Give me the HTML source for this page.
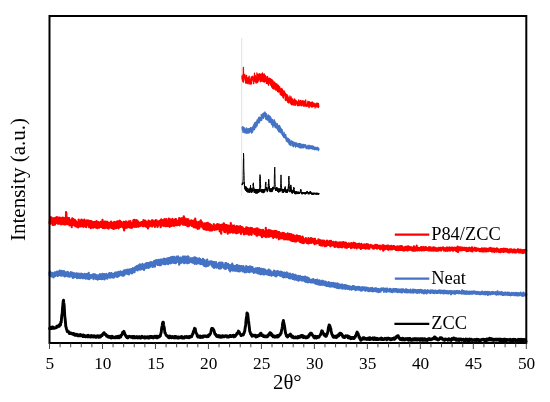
<!DOCTYPE html>
<html><head><meta charset="utf-8"><title>XRD</title>
<style>
html,body{margin:0;padding:0;background:#fff;}
body{width:550px;height:402px;overflow:hidden;}
svg{display:block;font-family:"Liberation Serif",serif;}
</style></head><body>
<svg width="550" height="402" viewBox="0 0 550 402">
<rect width="550" height="402" fill="#fff"/>
<!-- inset -->
<path d="M241.7 38V196" stroke="#e2e2e2" stroke-width="1" fill="none"/>
<path d="M242.0 75.4L242.1 78.9L242.3 78.1L242.4 78.8L242.6 80.4L242.7 81.3L242.9 74.7L243.0 75.5L243.1 74.6L243.3 82.2L243.4 67.5L243.6 80.2L243.7 79.2L243.9 75.3L244.0 76.6L244.1 75.2L244.3 76.6L244.4 75.0L244.6 74.4L244.7 74.8L244.9 78.2L245.0 75.9L245.1 75.1L245.3 81.1L245.4 81.2L245.6 82.8L245.7 81.7L245.9 83.0L246.0 80.5L246.2 79.5L246.3 78.6L246.4 77.9L246.6 75.3L246.7 81.3L246.9 78.0L247.0 81.6L247.2 83.5L247.3 82.2L247.4 79.8L247.6 80.3L247.7 83.2L247.9 77.7L248.0 80.7L248.2 80.8L248.3 80.9L248.4 77.3L248.6 79.6L248.7 80.0L248.9 82.5L249.0 84.0L249.2 76.1L249.3 82.5L249.4 79.8L249.6 81.2L249.7 80.3L249.9 82.6L250.0 79.2L250.2 79.1L250.3 80.4L250.4 84.0L250.6 79.3L250.7 79.3L250.9 80.0L251.0 84.2L251.2 77.0L251.3 80.8L251.4 80.9L251.6 83.3L251.7 78.6L251.9 80.9L252.0 77.8L252.2 78.4L252.3 76.2L252.4 77.9L252.6 78.8L252.7 78.0L252.9 79.0L253.0 77.9L253.2 77.6L253.3 78.3L253.4 81.1L253.6 80.6L253.7 83.7L253.9 76.4L254.0 82.1L254.2 75.9L254.3 77.1L254.5 73.2L254.6 79.4L254.7 75.2L254.9 75.6L255.0 81.2L255.2 80.5L255.3 75.7L255.5 80.2L255.6 78.5L255.7 82.2L255.9 79.7L256.0 79.3L256.2 83.1L256.3 76.9L256.5 78.4L256.6 81.1L256.7 80.7L256.9 72.8L257.0 74.4L257.2 76.7L257.3 82.6L257.5 74.8L257.6 74.3L257.7 82.0L257.9 75.3L258.0 76.7L258.2 81.4L258.3 77.3L258.5 74.3L258.6 77.4L258.7 80.1L258.9 75.1L259.0 76.0L259.2 76.5L259.3 73.7L259.5 79.5L259.6 74.4L259.7 75.4L259.9 77.4L260.0 80.0L260.2 74.2L260.3 81.8L260.5 77.8L260.6 74.8L260.7 74.9L260.9 77.9L261.0 74.1L261.2 74.7L261.3 81.4L261.5 80.7L261.6 78.5L261.8 80.6L261.9 74.1L262.0 75.5L262.2 73.2L262.3 78.0L262.5 73.0L262.6 73.9L262.8 81.5L262.9 73.8L263.0 81.5L263.2 77.7L263.3 77.3L263.5 74.3L263.6 76.2L263.8 76.4L263.9 79.4L264.0 82.0L264.2 76.4L264.3 73.9L264.5 82.1L264.6 78.0L264.8 77.5L264.9 80.6L265.0 80.3L265.2 78.8L265.3 75.5L265.5 81.3L265.6 76.6L265.8 79.8L265.9 76.3L266.0 76.8L266.2 80.2L266.3 81.4L266.5 83.4L266.6 81.1L266.8 80.8L266.9 80.6L267.0 78.0L267.2 83.5L267.3 80.8L267.5 76.3L267.6 80.1L267.8 79.0L267.9 77.6L268.0 82.3L268.2 83.4L268.3 84.3L268.5 84.2L268.6 85.3L268.8 78.6L268.9 81.9L269.1 80.6L269.2 83.5L269.3 83.3L269.5 78.1L269.6 80.0L269.8 79.6L269.9 78.4L270.1 80.3L270.2 82.2L270.3 80.8L270.5 79.5L270.6 85.2L270.8 79.0L270.9 80.6L271.1 84.5L271.2 82.2L271.3 84.4L271.5 79.6L271.6 87.1L271.8 82.5L271.9 86.3L272.1 82.9L272.2 86.6L272.3 79.8L272.5 82.0L272.6 88.3L272.8 80.5L272.9 87.3L273.1 83.3L273.2 84.3L273.3 82.7L273.5 83.3L273.6 88.9L273.8 84.6L273.9 81.9L274.1 87.3L274.2 82.7L274.3 85.6L274.5 87.8L274.6 85.1L274.8 82.1L274.9 87.7L275.1 89.5L275.2 87.4L275.3 89.7L275.5 85.8L275.6 83.7L275.8 84.9L275.9 89.0L276.1 90.3L276.2 83.7L276.3 89.5L276.5 89.1L276.6 84.6L276.8 89.9L276.9 86.5L277.1 84.2L277.2 87.9L277.4 85.4L277.5 88.0L277.6 91.6L277.8 85.3L277.9 88.4L278.1 88.2L278.2 85.4L278.4 89.3L278.5 85.3L278.6 92.2L278.8 91.9L278.9 89.3L279.1 87.0L279.2 86.3L279.4 87.2L279.5 89.9L279.6 90.6L279.8 86.9L279.9 92.3L280.1 90.2L280.2 94.6L280.4 89.7L280.5 90.5L280.6 93.5L280.8 90.4L280.9 93.7L281.1 91.8L281.2 88.3L281.4 95.2L281.5 95.4L281.6 88.9L281.8 90.8L281.9 93.0L282.1 89.2L282.2 91.9L282.4 89.2L282.5 93.3L282.6 93.1L282.8 97.1L282.9 96.1L283.1 91.7L283.2 95.4L283.4 98.0L283.5 91.0L283.6 94.8L283.8 91.5L283.9 92.6L284.1 94.8L284.2 90.8L284.4 95.0L284.5 93.6L284.7 91.8L284.8 96.0L284.9 93.3L285.1 93.4L285.2 100.0L285.4 95.8L285.5 96.9L285.7 93.3L285.8 100.6L285.9 97.7L286.1 95.5L286.2 98.7L286.4 98.7L286.5 97.5L286.7 97.2L286.8 94.7L286.9 100.3L287.1 94.6L287.2 95.0L287.4 99.7L287.5 101.8L287.7 102.2L287.8 95.8L287.9 101.8L288.1 96.9L288.2 97.1L288.4 99.3L288.5 100.3L288.7 100.0L288.8 103.1L288.9 99.9L289.1 99.0L289.2 99.9L289.4 97.8L289.5 102.0L289.7 98.0L289.8 100.4L289.9 96.0L290.1 102.3L290.2 99.7L290.4 102.9L290.5 98.5L290.7 100.9L290.8 103.8L290.9 102.8L291.1 99.1L291.2 97.0L291.4 102.0L291.5 104.7L291.7 100.7L291.8 102.8L291.9 102.7L292.1 104.8L292.2 100.9L292.4 98.8L292.5 98.9L292.7 104.4L292.8 98.8L293.0 102.3L293.1 102.7L293.2 104.5L293.4 101.4L293.5 100.3L293.7 104.6L293.8 102.7L294.0 105.2L294.1 103.8L294.2 103.1L294.4 102.0L294.5 99.0L294.7 104.2L294.8 101.4L295.0 99.5L295.1 103.8L295.2 105.3L295.4 103.8L295.5 100.4L295.7 101.4L295.8 101.4L296.0 100.6L296.1 103.6L296.2 103.8L296.4 101.2L296.5 101.9L296.7 101.5L296.8 101.1L297.0 103.5L297.1 104.4L297.2 103.9L297.4 105.5L297.5 105.4L297.7 105.5L297.8 104.4L298.0 102.0L298.1 104.3L298.2 105.6L298.4 101.5L298.5 101.9L298.7 100.0L298.8 105.3L299.0 104.7L299.1 100.7L299.2 102.6L299.4 101.7L299.5 102.1L299.7 102.6L299.8 105.7L300.0 101.9L300.1 103.5L300.3 104.5L300.4 104.3L300.5 100.4L300.7 102.2L300.8 105.1L301.0 101.3L301.1 102.9L301.3 104.9L301.4 101.5L301.5 103.2L301.7 105.9L301.8 101.0L302.0 102.1L302.1 100.6L302.3 100.8L302.4 105.2L302.5 103.6L302.7 104.1L302.8 102.1L303.0 104.7L303.1 101.5L303.3 101.8L303.4 101.0L303.5 106.1L303.7 102.6L303.8 102.4L304.0 103.2L304.1 102.1L304.3 106.0L304.4 102.4L304.5 101.1L304.7 105.6L304.8 105.0L305.0 101.9L305.1 103.0L305.3 101.8L305.4 106.0L305.5 106.1L305.7 100.0L305.8 102.2L306.0 103.3L306.1 104.5L306.3 105.7L306.4 106.1L306.5 106.3L306.7 104.3L306.8 105.3L307.0 106.1L307.1 105.3L307.3 103.8L307.4 105.8L307.6 104.7L307.7 102.9L307.8 101.5L308.0 105.5L308.1 101.4L308.3 106.5L308.4 105.7L308.6 102.4L308.7 106.1L308.8 104.5L309.0 106.7L309.1 107.7L309.3 101.6L309.4 102.8L309.6 106.0L309.7 104.4L309.8 102.4L310.0 104.4L310.1 103.5L310.3 103.7L310.4 102.3L310.6 104.9L310.7 106.1L310.8 103.8L311.0 103.4L311.1 106.6L311.3 105.1L311.4 107.0L311.6 106.3L311.7 102.2L311.8 105.6L312.0 102.7L312.1 101.9L312.3 105.3L312.4 102.1L312.6 103.2L312.7 107.0L312.8 103.6L313.0 105.7L313.1 105.7L313.3 104.9L313.4 106.4L313.6 103.2L313.7 102.9L313.8 106.2L314.0 104.0L314.1 103.3L314.3 104.9L314.4 105.7L314.6 104.9L314.7 106.4L314.8 104.1L315.0 106.3L315.1 108.0L315.3 105.3L315.4 105.8L315.6 105.3L315.7 104.0L315.9 103.7L316.0 106.0L316.1 103.3L316.3 104.5L316.4 104.4L316.6 106.9L316.7 105.2L316.9 103.9L317.0 104.8L317.1 103.0L317.3 104.1L317.4 106.0L317.6 103.9L317.7 104.2L317.9 107.1L318.0 104.1L318.1 105.6L318.3 107.5L318.4 103.3L318.6 104.8L318.7 106.7L318.9 106.5L319.0 105.8" stroke="#ff0000" stroke-width="1.3" fill="none" stroke-linejoin="round"/>
<path d="M242.0 128.1L242.1 127.7L242.3 129.7L242.4 126.9L242.6 126.8L242.7 129.4L242.9 132.3L243.0 127.7L243.1 127.9L243.3 127.1L243.4 127.2L243.6 127.3L243.7 128.8L243.9 128.6L244.0 130.6L244.1 128.0L244.3 132.7L244.4 130.7L244.6 132.2L244.7 128.0L244.9 132.4L245.0 129.9L245.1 129.5L245.3 133.0L245.4 130.2L245.6 129.3L245.7 130.0L245.9 131.6L246.0 129.1L246.2 130.8L246.3 129.7L246.4 128.5L246.6 127.9L246.7 133.0L246.9 133.5L247.0 129.6L247.2 132.7L247.3 130.4L247.4 130.1L247.6 129.7L247.7 130.0L247.9 130.2L248.0 128.7L248.2 133.2L248.3 130.6L248.4 129.1L248.6 130.5L248.7 130.8L248.9 132.5L249.0 128.7L249.2 130.9L249.3 132.5L249.4 132.8L249.6 128.5L249.7 129.8L249.9 131.9L250.0 129.6L250.2 131.6L250.3 129.0L250.4 129.3L250.6 127.7L250.7 131.8L250.9 129.0L251.0 127.6L251.2 128.7L251.3 128.1L251.4 129.3L251.6 133.1L251.7 132.8L251.9 132.2L252.0 131.8L252.2 132.4L252.3 127.4L252.4 129.4L252.6 131.0L252.7 131.8L252.9 129.5L253.0 126.2L253.2 127.4L253.3 126.1L253.4 129.7L253.6 129.8L253.7 126.9L253.9 124.1L254.0 129.9L254.2 129.5L254.3 129.6L254.5 128.2L254.6 129.6L254.7 124.7L254.9 122.3L255.0 128.0L255.2 127.6L255.3 123.8L255.5 125.8L255.6 122.3L255.7 122.4L255.9 127.7L256.0 126.8L256.2 122.0L256.3 125.0L256.5 125.2L256.6 123.8L256.7 123.4L256.9 124.4L257.0 119.8L257.2 125.9L257.3 123.4L257.5 122.2L257.6 120.8L257.7 120.5L257.9 122.7L258.0 119.6L258.2 122.9L258.3 118.5L258.5 120.4L258.6 119.5L258.7 117.4L258.9 122.0L259.0 123.1L259.2 119.5L259.3 118.3L259.5 121.0L259.6 117.1L259.7 122.0L259.9 119.4L260.0 120.5L260.2 117.7L260.3 119.0L260.5 119.1L260.6 119.3L260.7 120.4L260.9 117.7L261.0 117.5L261.2 117.3L261.3 114.4L261.5 116.6L261.6 120.4L261.8 118.5L261.9 116.2L262.0 119.2L262.2 115.2L262.3 116.0L262.5 115.0L262.6 115.7L262.8 113.6L262.9 116.6L263.0 113.3L263.2 115.4L263.3 117.5L263.5 118.3L263.6 116.5L263.8 114.3L263.9 112.9L264.0 113.3L264.2 113.1L264.3 115.9L264.5 116.6L264.6 112.1L264.8 114.4L264.9 116.7L265.0 116.4L265.2 112.2L265.3 115.8L265.5 118.5L265.6 118.1L265.8 113.7L265.9 118.3L266.0 119.5L266.2 119.3L266.3 118.9L266.5 113.6L266.6 116.0L266.8 117.8L266.9 119.5L267.0 119.4L267.2 116.4L267.3 116.2L267.5 118.9L267.6 115.9L267.8 117.1L267.9 120.4L268.0 116.3L268.2 120.7L268.3 114.9L268.5 115.3L268.6 117.5L268.8 120.0L268.9 116.7L269.1 122.4L269.2 119.8L269.3 116.0L269.5 117.3L269.6 122.1L269.8 116.7L269.9 116.1L270.1 117.9L270.2 116.4L270.3 117.8L270.5 120.1L270.6 122.8L270.8 120.1L270.9 121.0L271.1 117.8L271.2 119.7L271.3 122.1L271.5 121.0L271.6 124.6L271.8 120.7L271.9 124.7L272.1 119.4L272.2 123.1L272.3 123.9L272.5 125.5L272.6 119.6L272.8 123.1L272.9 127.3L273.1 122.5L273.2 126.3L273.3 125.9L273.5 121.3L273.6 122.8L273.8 121.8L273.9 125.6L274.1 119.9L274.2 125.0L274.3 119.8L274.5 120.3L274.6 126.0L274.8 121.8L274.9 124.7L275.1 127.5L275.2 121.9L275.3 123.3L275.5 126.9L275.6 125.8L275.8 126.0L275.9 122.8L276.1 125.5L276.2 128.1L276.3 125.9L276.5 126.9L276.6 128.2L276.8 125.1L276.9 126.4L277.1 125.4L277.2 124.9L277.4 123.6L277.5 129.8L277.6 125.9L277.8 128.8L277.9 125.2L278.1 128.2L278.2 130.3L278.4 129.3L278.5 127.7L278.6 131.7L278.8 125.8L278.9 131.1L279.1 125.9L279.2 128.8L279.4 125.4L279.5 125.9L279.6 132.1L279.8 131.1L279.9 126.3L280.1 126.8L280.2 127.1L280.4 132.5L280.5 130.1L280.6 132.8L280.8 131.4L280.9 132.8L281.1 128.5L281.2 132.8L281.4 130.1L281.5 132.6L281.6 129.5L281.8 130.9L281.9 134.3L282.1 129.6L282.2 130.3L282.4 131.4L282.5 131.1L282.6 135.5L282.8 136.0L282.9 135.9L283.1 133.4L283.2 134.9L283.4 134.7L283.5 135.4L283.6 135.4L283.8 137.6L283.9 136.0L284.1 132.2L284.2 137.1L284.4 136.0L284.5 137.7L284.7 135.0L284.8 134.3L284.9 136.4L285.1 134.8L285.2 137.3L285.4 137.2L285.5 138.3L285.7 134.3L285.8 139.3L285.9 135.3L286.1 137.7L286.2 137.5L286.4 141.2L286.5 140.2L286.7 141.1L286.8 137.3L286.9 138.9L287.1 141.4L287.2 141.4L287.4 140.0L287.5 139.6L287.7 138.3L287.8 140.1L287.9 142.3L288.1 141.6L288.2 142.4L288.4 141.3L288.5 138.5L288.7 139.2L288.8 140.8L288.9 143.7L289.1 141.4L289.2 144.3L289.4 141.8L289.5 143.4L289.7 143.4L289.8 139.7L289.9 142.0L290.1 143.1L290.2 145.5L290.4 144.7L290.5 141.5L290.7 141.9L290.8 143.0L290.9 142.4L291.1 142.5L291.2 143.7L291.4 140.9L291.5 143.1L291.7 141.2L291.8 141.0L291.9 145.6L292.1 141.4L292.2 144.7L292.4 145.3L292.5 141.8L292.7 141.8L292.8 141.6L293.0 146.1L293.1 144.1L293.2 142.4L293.4 146.8L293.5 144.9L293.7 146.3L293.8 142.4L294.0 144.9L294.1 145.8L294.2 144.2L294.4 144.5L294.5 142.4L294.7 143.2L294.8 143.5L295.0 144.4L295.1 142.4L295.2 142.8L295.4 145.2L295.5 147.2L295.7 143.7L295.8 145.0L296.0 144.9L296.1 146.3L296.2 145.2L296.4 145.1L296.5 142.9L296.7 142.9L296.8 144.9L297.0 143.4L297.1 144.4L297.2 143.6L297.4 146.6L297.5 144.3L297.7 146.0L297.8 145.8L298.0 146.3L298.1 144.3L298.2 143.9L298.4 147.1L298.5 145.4L298.7 146.4L298.8 145.2L299.0 143.4L299.1 143.9L299.2 144.0L299.4 143.5L299.5 146.6L299.7 147.7L299.8 145.2L300.0 147.8L300.1 144.0L300.3 145.1L300.4 146.2L300.5 146.4L300.7 143.7L300.8 147.5L301.0 148.0L301.1 145.0L301.3 145.0L301.4 146.5L301.5 145.6L301.7 146.1L301.8 147.5L302.0 146.6L302.1 144.4L302.3 145.3L302.4 147.6L302.5 147.9L302.7 145.3L302.8 144.4L303.0 147.4L303.1 145.0L303.3 145.1L303.4 145.9L303.5 144.5L303.7 147.0L303.8 147.8L304.0 145.7L304.1 147.1L304.3 144.9L304.4 145.8L304.5 145.0L304.7 144.8L304.8 145.6L305.0 146.0L305.1 144.6L305.3 147.1L305.4 147.1L305.5 145.7L305.7 146.3L305.8 145.7L306.0 145.0L306.1 148.5L306.3 148.4L306.4 146.5L306.5 148.0L306.7 146.8L306.8 148.6L307.0 147.2L307.1 148.2L307.3 147.1L307.4 147.1L307.6 147.4L307.7 148.2L307.8 145.4L308.0 147.8L308.1 147.8L308.3 148.9L308.4 146.4L308.6 147.7L308.7 146.5L308.8 147.4L309.0 145.2L309.1 148.3L309.3 145.9L309.4 147.1L309.6 145.9L309.7 148.8L309.8 148.0L310.0 148.6L310.1 148.2L310.3 148.7L310.4 147.8L310.6 145.8L310.7 145.7L310.8 148.3L311.0 146.6L311.1 148.2L311.3 147.2L311.4 148.7L311.6 146.9L311.7 146.0L311.8 148.7L312.0 146.8L312.1 147.2L312.3 148.5L312.4 146.2L312.6 149.2L312.7 145.9L312.8 148.6L313.0 148.9L313.1 148.1L313.3 146.6L313.4 146.3L313.6 148.7L313.7 148.6L313.8 148.8L314.0 149.5L314.1 148.2L314.3 149.4L314.4 149.6L314.6 148.2L314.7 148.9L314.8 146.8L315.0 149.7L315.1 148.0L315.3 148.0L315.4 148.7L315.6 149.3L315.7 147.3L315.9 149.0L316.0 149.2L316.1 147.8L316.3 148.0L316.4 149.5L316.6 147.7L316.7 149.8L316.9 149.6L317.0 147.8L317.1 147.7L317.3 147.3L317.4 147.4L317.6 149.6L317.7 147.7L317.9 147.7L318.0 148.9L318.1 147.8L318.3 147.8L318.4 150.6L318.6 150.1L318.7 149.4L318.9 149.5L319.0 148.2" stroke="#4472c4" stroke-width="1.3" fill="none" stroke-linejoin="round"/>
<path d="M242.0 185.2L242.1 184.2L242.2 183.9L242.2 183.5L242.3 184.8L242.4 183.7L242.5 183.8L242.5 183.9L242.6 183.4L242.7 182.6L242.8 182.5L242.8 183.9L242.9 181.8L243.0 181.1L243.1 179.0L243.2 175.7L243.2 171.8L243.3 168.5L243.4 161.0L243.5 157.5L243.5 153.2L243.6 154.2L243.7 157.8L243.8 160.4L243.8 166.4L243.9 170.2L244.0 172.1L244.1 175.8L244.2 180.9L244.2 184.1L244.3 182.2L244.4 186.5L244.5 186.2L244.5 184.3L244.6 185.3L244.7 188.0L244.8 188.3L244.8 187.8L244.9 189.2L245.0 188.6L245.1 189.4L245.2 187.0L245.2 187.4L245.3 187.0L245.4 186.6L245.5 187.1L245.5 186.5L245.6 190.3L245.7 188.9L245.8 190.5L245.8 186.9L245.9 189.2L246.0 188.5L246.1 190.7L246.2 186.7L246.2 189.5L246.3 189.2L246.4 187.1L246.5 189.1L246.5 188.4L246.6 188.5L246.7 187.4L246.8 191.1L246.9 188.3L246.9 191.6L247.0 188.2L247.1 191.6L247.2 192.0L247.2 189.9L247.3 191.6L247.4 188.9L247.5 188.4L247.5 191.2L247.6 190.4L247.7 191.8L247.8 190.4L247.9 192.4L247.9 189.9L248.0 189.9L248.1 191.5L248.2 192.6L248.2 189.6L248.3 189.3L248.4 191.9L248.5 189.5L248.5 188.9L248.6 190.8L248.7 189.6L248.8 188.8L248.9 191.2L248.9 190.1L249.0 188.9L249.1 189.8L249.2 190.3L249.2 189.1L249.3 191.6L249.4 188.7L249.5 190.4L249.5 189.9L249.6 192.7L249.7 189.1L249.8 188.8L249.9 189.9L249.9 192.7L250.0 190.3L250.1 191.8L250.2 187.6L250.2 190.5L250.3 189.5L250.4 190.0L250.5 185.8L250.5 185.0L250.6 188.8L250.7 189.0L250.8 187.7L250.9 190.1L250.9 190.4L251.0 189.9L251.1 189.8L251.2 188.2L251.2 191.4L251.3 191.8L251.4 191.2L251.5 192.1L251.5 190.8L251.6 189.8L251.7 193.0L251.8 189.1L251.9 190.0L251.9 189.7L252.0 191.5L252.1 190.8L252.2 191.3L252.2 190.8L252.3 191.5L252.4 189.1L252.5 190.3L252.5 191.0L252.6 191.2L252.7 190.3L252.8 188.3L252.9 190.8L252.9 189.4L253.0 190.8L253.1 187.1L253.2 187.7L253.2 183.8L253.3 185.9L253.4 182.8L253.5 185.5L253.6 186.4L253.6 187.7L253.7 187.8L253.8 188.6L253.9 187.7L253.9 188.8L254.0 191.7L254.1 192.6L254.2 190.0L254.2 191.0L254.3 190.0L254.4 190.0L254.5 192.4L254.6 192.6L254.6 191.6L254.7 192.8L254.8 188.9L254.9 193.0L254.9 189.4L255.0 189.0L255.1 189.5L255.2 190.1L255.2 191.4L255.3 189.2L255.4 193.1L255.5 190.9L255.6 193.4L255.6 192.2L255.7 190.1L255.8 189.9L255.9 192.7L255.9 191.6L256.0 189.4L256.1 190.2L256.2 189.6L256.2 191.7L256.3 193.0L256.4 190.7L256.5 189.2L256.6 193.2L256.6 192.7L256.7 189.2L256.8 190.3L256.9 190.7L256.9 193.4L257.0 189.2L257.1 193.5L257.2 191.8L257.2 190.8L257.3 190.8L257.4 192.0L257.5 190.4L257.6 190.4L257.6 192.6L257.7 190.5L257.8 192.6L257.9 190.5L257.9 192.0L258.0 189.0L258.1 191.4L258.2 190.9L258.2 192.4L258.3 191.7L258.4 191.8L258.5 189.7L258.6 192.7L258.6 192.5L258.7 191.1L258.8 191.7L258.9 190.0L258.9 189.9L259.0 191.1L259.1 190.5L259.2 189.0L259.2 192.2L259.3 191.3L259.4 188.7L259.5 191.4L259.6 189.0L259.6 187.4L259.7 187.5L259.8 181.9L259.9 179.3L259.9 180.6L260.0 174.6L260.1 175.1L260.2 178.1L260.2 177.3L260.3 182.7L260.4 181.9L260.5 187.3L260.6 185.1L260.6 188.5L260.7 191.3L260.8 191.1L260.9 191.0L260.9 190.4L261.0 191.8L261.1 191.6L261.2 189.3L261.2 191.8L261.3 192.2L261.4 191.7L261.5 189.8L261.6 190.5L261.6 189.7L261.7 190.4L261.8 190.6L261.9 192.4L261.9 192.1L262.0 189.6L262.1 192.4L262.2 191.9L262.3 190.3L262.3 191.4L262.4 189.3L262.5 189.6L262.6 190.0L262.6 192.3L262.7 189.7L262.8 190.1L262.9 191.1L262.9 190.7L263.0 189.8L263.1 191.1L263.2 193.2L263.3 191.1L263.3 192.6L263.4 192.5L263.5 189.5L263.6 191.0L263.6 190.7L263.7 192.3L263.8 191.8L263.9 191.5L263.9 192.6L264.0 189.2L264.1 189.2L264.2 190.8L264.3 191.5L264.3 191.5L264.4 192.3L264.5 189.3L264.6 189.0L264.6 190.0L264.7 191.4L264.8 189.6L264.9 191.4L264.9 190.4L265.0 189.0L265.1 189.8L265.2 188.8L265.3 189.7L265.3 188.4L265.4 184.7L265.5 183.2L265.6 184.6L265.6 183.6L265.7 183.4L265.8 181.9L265.9 182.0L265.9 185.2L266.0 188.3L266.1 187.9L266.2 189.2L266.3 187.1L266.3 189.2L266.4 188.5L266.5 188.3L266.6 189.0L266.6 189.4L266.7 190.3L266.8 190.8L266.9 190.5L266.9 189.8L267.0 188.9L267.1 190.4L267.2 192.1L267.3 192.1L267.3 192.1L267.4 192.0L267.5 190.6L267.6 190.3L267.6 188.9L267.7 191.1L267.8 190.3L267.9 189.3L267.9 187.5L268.0 187.6L268.1 189.2L268.2 187.8L268.3 188.0L268.3 184.0L268.4 185.2L268.5 184.8L268.6 180.0L268.6 183.3L268.7 179.2L268.8 182.5L268.9 182.7L268.9 182.9L269.0 184.4L269.1 184.2L269.2 188.3L269.3 186.0L269.3 190.6L269.4 191.1L269.5 190.9L269.6 188.1L269.6 190.3L269.7 191.3L269.8 189.6L269.9 189.7L270.0 191.3L270.0 188.1L270.1 189.6L270.2 191.6L270.3 191.5L270.3 192.0L270.4 191.8L270.5 189.0L270.6 192.1L270.6 189.2L270.7 190.5L270.8 190.6L270.9 191.0L271.0 190.8L271.0 189.1L271.1 191.9L271.2 188.8L271.3 191.3L271.3 188.2L271.4 192.0L271.5 191.9L271.6 189.3L271.6 190.5L271.7 190.2L271.8 192.1L271.9 189.4L272.0 188.4L272.0 189.8L272.1 189.4L272.2 189.1L272.3 191.3L272.3 189.5L272.4 188.4L272.5 188.5L272.6 191.2L272.6 189.3L272.7 187.9L272.8 188.8L272.9 187.0L273.0 188.2L273.0 186.9L273.1 187.3L273.2 189.4L273.3 187.6L273.3 188.7L273.4 187.2L273.5 186.9L273.6 187.7L273.6 187.3L273.7 188.7L273.8 189.4L273.9 187.5L274.0 189.0L274.0 187.6L274.1 187.8L274.2 186.1L274.3 184.7L274.3 180.8L274.4 174.8L274.5 172.3L274.6 169.0L274.6 168.6L274.7 168.1L274.8 167.2L274.9 173.3L275.0 175.1L275.0 179.7L275.1 182.7L275.2 184.2L275.3 186.5L275.3 187.4L275.4 189.1L275.5 190.2L275.6 189.4L275.6 191.0L275.7 189.6L275.8 187.9L275.9 190.2L276.0 189.1L276.0 190.8L276.1 189.0L276.2 190.4L276.3 188.5L276.3 190.3L276.4 189.9L276.5 190.1L276.6 187.2L276.6 188.6L276.7 189.6L276.8 188.1L276.9 187.2L277.0 189.0L277.0 188.7L277.1 187.9L277.2 189.8L277.3 189.4L277.3 191.0L277.4 189.9L277.5 191.4L277.6 190.7L277.7 189.7L277.7 188.1L277.8 191.2L277.9 190.0L278.0 191.8L278.0 192.0L278.1 191.8L278.2 190.7L278.3 191.0L278.3 191.1L278.4 190.3L278.5 190.1L278.6 192.5L278.7 188.5L278.7 192.1L278.8 189.1L278.9 189.0L279.0 191.7L279.0 188.6L279.1 191.2L279.2 189.5L279.3 192.0L279.3 190.8L279.4 189.4L279.5 190.9L279.6 191.4L279.7 191.9L279.7 188.5L279.8 192.1L279.9 191.7L280.0 189.2L280.0 190.6L280.1 190.2L280.2 190.3L280.3 188.5L280.3 190.8L280.4 189.1L280.5 187.5L280.6 187.5L280.7 183.3L280.7 181.7L280.8 179.7L280.9 177.4L281.0 174.9L281.0 176.0L281.1 176.7L281.2 180.1L281.3 181.1L281.3 183.7L281.4 186.2L281.5 186.0L281.6 188.6L281.7 190.7L281.7 190.5L281.8 190.0L281.9 188.7L282.0 190.7L282.0 190.1L282.1 190.0L282.2 191.5L282.3 192.6L282.3 190.8L282.4 189.5L282.5 191.5L282.6 190.6L282.7 192.2L282.7 191.9L282.8 190.3L282.9 192.2L283.0 191.0L283.0 191.7L283.1 189.2L283.2 190.0L283.3 192.4L283.3 189.0L283.4 191.7L283.5 192.7L283.6 192.3L283.7 189.6L283.7 189.5L283.8 190.5L283.9 189.2L284.0 191.4L284.0 191.5L284.1 191.6L284.2 192.1L284.3 189.9L284.4 188.6L284.4 189.0L284.5 191.3L284.6 188.2L284.7 187.7L284.7 189.5L284.8 188.7L284.9 189.6L285.0 188.9L285.0 189.2L285.1 189.6L285.2 186.5L285.3 190.6L285.4 188.4L285.4 188.1L285.5 191.7L285.6 189.6L285.7 189.2L285.7 191.0L285.8 192.2L285.9 190.3L286.0 192.4L286.0 192.9L286.1 191.2L286.2 190.0L286.3 190.3L286.4 189.8L286.4 190.9L286.5 190.7L286.6 190.3L286.7 190.8L286.7 190.2L286.8 192.6L286.9 192.8L287.0 190.9L287.0 189.6L287.1 190.3L287.2 191.8L287.3 193.0L287.4 192.1L287.4 189.4L287.5 190.4L287.6 189.3L287.7 191.2L287.7 190.5L287.8 190.7L287.9 189.9L288.0 189.0L288.0 191.6L288.1 189.6L288.2 188.1L288.3 187.9L288.4 186.4L288.4 188.4L288.5 184.1L288.6 185.3L288.7 183.3L288.7 178.0L288.8 179.0L288.9 176.0L289.0 178.5L289.0 180.9L289.1 181.0L289.2 182.1L289.3 185.7L289.4 187.2L289.4 187.0L289.5 189.1L289.6 189.7L289.7 189.7L289.7 189.9L289.8 192.2L289.9 191.3L290.0 190.4L290.0 190.9L290.1 191.1L290.2 191.9L290.3 190.0L290.4 191.0L290.4 188.0L290.5 189.5L290.6 188.7L290.7 185.3L290.7 187.2L290.8 184.9L290.9 188.5L291.0 187.9L291.0 187.1L291.1 190.1L291.2 189.0L291.3 188.8L291.4 191.1L291.4 192.3L291.5 192.2L291.6 192.6L291.7 192.4L291.7 191.2L291.8 190.6L291.9 191.1L292.0 193.0L292.1 190.0L292.1 190.2L292.2 193.5L292.3 190.0L292.4 192.1L292.4 193.4L292.5 192.0L292.6 192.9L292.7 190.1L292.7 192.8L292.8 192.4L292.9 192.4L293.0 191.0L293.1 192.2L293.1 192.6L293.2 192.7L293.3 189.5L293.4 192.1L293.4 190.8L293.5 189.4L293.6 189.3L293.7 188.5L293.7 187.2L293.8 188.3L293.9 188.8L294.0 189.3L294.1 187.9L294.1 189.4L294.2 192.1L294.3 191.4L294.4 190.3L294.4 193.0L294.5 190.9L294.6 193.9L294.7 192.9L294.7 194.0L294.8 191.8L294.9 193.9L295.0 191.9L295.1 191.1L295.1 193.5L295.2 194.2L295.3 194.2L295.4 191.5L295.4 192.9L295.5 193.3L295.6 192.2L295.7 193.6L295.7 192.4L295.8 194.1L295.9 193.1L296.0 192.7L296.1 192.9L296.1 192.6L296.2 192.9L296.3 193.6L296.4 192.4L296.4 191.4L296.5 193.5L296.6 192.8L296.7 194.1L296.7 191.5L296.8 193.8L296.9 192.4L297.0 193.9L297.1 192.5L297.1 191.9L297.2 193.4L297.3 192.1L297.4 193.9L297.4 193.2L297.5 194.0L297.6 193.5L297.7 192.9L297.7 193.3L297.8 191.8L297.9 191.9L298.0 192.3L298.1 193.1L298.1 194.1L298.2 191.7L298.3 192.4L298.4 191.9L298.4 193.9L298.5 194.0L298.6 193.2L298.7 192.3L298.7 193.9L298.8 192.6L298.9 193.3L299.0 193.8L299.1 192.6L299.1 192.3L299.2 192.0L299.3 194.0L299.4 191.9L299.4 193.7L299.5 194.0L299.6 192.7L299.7 192.1L299.8 193.3L299.8 192.1L299.9 192.5L300.0 192.1L300.1 192.8L300.1 192.6L300.2 192.1L300.3 191.5L300.4 191.6L300.4 190.0L300.5 189.7L300.6 189.4L300.7 189.3L300.8 189.9L300.8 189.4L300.9 191.5L301.0 190.0L301.1 192.2L301.1 192.3L301.2 192.1L301.3 192.3L301.4 193.1L301.4 192.3L301.5 193.4L301.6 192.7L301.7 193.6L301.8 193.0L301.8 194.1L301.9 193.3L302.0 193.4L302.1 192.5L302.1 194.2L302.2 192.2L302.3 192.1L302.4 192.9L302.4 194.2L302.5 192.7L302.6 192.3L302.7 192.8L302.8 193.8L302.8 193.8L302.9 192.3L303.0 193.1L303.1 193.1L303.1 192.5L303.2 192.5L303.3 192.9L303.4 193.0L303.4 193.5L303.5 193.6L303.6 193.5L303.7 193.1L303.8 192.6L303.8 192.5L303.9 192.5L304.0 193.8L304.1 192.6L304.1 193.2L304.2 192.8L304.3 192.8L304.4 193.8L304.4 193.9L304.5 193.4L304.6 193.6L304.7 193.6L304.8 193.9L304.8 192.3L304.9 192.8L305.0 193.9L305.1 194.4L305.1 193.7L305.2 194.0L305.3 192.7L305.4 192.3L305.4 194.2L305.5 192.8L305.6 192.8L305.7 193.6L305.8 193.3L305.8 194.0L305.9 192.7L306.0 192.6L306.1 192.4L306.1 193.8L306.2 193.5L306.3 193.5L306.4 192.6L306.4 192.4L306.5 193.4L306.6 193.4L306.7 192.2L306.8 192.1L306.8 192.8L306.9 192.6L307.0 191.1L307.1 191.1L307.1 192.0L307.2 191.8L307.3 191.2L307.4 192.3L307.4 192.3L307.5 192.0L307.6 192.3L307.7 192.0L307.8 192.5L307.8 192.1L307.9 193.0L308.0 192.2L308.1 192.2L308.1 194.2L308.2 192.5L308.3 192.9L308.4 194.1L308.5 192.5L308.5 193.5L308.6 193.4L308.7 193.5L308.8 193.7L308.8 193.4L308.9 194.2L309.0 193.7L309.1 192.7L309.1 193.5L309.2 192.5L309.3 192.9L309.4 194.2L309.5 192.5L309.5 193.0L309.6 192.4L309.7 194.0L309.8 192.3L309.8 193.2L309.9 192.9L310.0 193.5L310.1 191.7L310.1 191.4L310.2 192.8L310.3 191.4L310.4 191.7L310.5 192.5L310.5 191.4L310.6 191.2L310.7 192.6L310.8 192.8L310.8 193.4L310.9 193.2L311.0 193.0L311.1 192.4L311.1 193.6L311.2 193.3L311.3 193.1L311.4 193.5L311.5 192.7L311.5 194.3L311.6 193.2L311.7 194.3L311.8 194.0L311.8 193.8L311.9 193.1L312.0 193.9L312.1 193.3L312.1 194.3L312.2 193.3L312.3 194.2L312.4 192.7L312.5 194.1L312.5 193.6L312.6 193.8L312.7 193.8L312.8 194.5L312.8 193.8L312.9 194.4L313.0 194.0L313.1 193.5L313.1 194.4L313.2 194.1L313.3 194.0L313.4 194.4L313.5 193.0L313.5 193.0L313.6 193.8L313.7 193.3L313.8 193.0L313.8 193.2L313.9 192.7L314.0 194.3L314.1 192.9L314.1 192.7L314.2 193.7L314.3 193.2L314.4 193.0L314.5 193.7L314.5 193.5L314.6 193.4L314.7 194.0L314.8 193.0L314.8 193.6L314.9 194.4L315.0 193.4L315.1 194.1L315.1 193.4L315.2 193.2L315.3 193.5L315.4 192.9L315.5 193.3L315.5 193.3L315.6 194.3L315.7 194.3L315.8 194.2L315.8 193.7L315.9 192.9L316.0 194.0L316.1 193.7L316.2 194.3L316.2 193.7L316.3 192.9L316.4 193.7L316.5 193.0L316.5 194.4L316.6 192.9L316.7 193.6L316.8 193.1L316.8 193.8L316.9 192.9L317.0 194.6L317.1 194.0L317.2 194.4L317.2 193.5L317.3 193.5L317.4 193.6L317.5 192.9L317.5 194.1L317.6 193.8L317.7 194.0L317.8 193.4L317.8 192.9L317.9 194.1L318.0 194.4L318.1 193.6L318.2 193.6L318.2 193.3L318.3 193.3L318.4 194.2L318.5 193.8L318.5 194.7L318.6 194.0L318.7 193.2L318.8 193.4L318.8 194.1L318.9 193.5L319.0 194.2" stroke="#000" stroke-width="1" fill="none" stroke-linejoin="round"/>
<!-- main curves -->
<path d="M49.5 221.4L49.7 223.4L49.9 222.6L50.1 218.5L50.3 219.1L50.5 223.6L50.7 217.0L50.9 223.3L51.1 223.1L51.3 220.5L51.5 219.5L51.7 219.3L51.9 217.9L52.1 220.4L52.3 221.0L52.5 221.6L52.7 225.0L52.9 223.4L53.1 222.1L53.3 224.9L53.5 219.0L53.7 218.7L53.9 222.0L54.1 218.0L54.3 218.0L54.5 221.5L54.7 221.0L54.9 224.6L55.1 222.5L55.3 221.4L55.5 221.2L55.7 219.3L55.9 217.5L56.1 218.8L56.3 222.4L56.5 218.7L56.7 219.8L56.9 217.1L57.1 223.3L57.3 218.1L57.5 218.9L57.7 223.6L57.9 220.6L58.1 223.0L58.3 221.5L58.5 222.4L58.7 217.6L58.9 221.1L59.1 220.8L59.3 223.6L59.5 219.9L59.7 221.7L59.9 217.5L60.1 219.8L60.3 219.3L60.5 218.1L60.7 223.2L60.9 219.9L61.1 224.5L61.3 221.5L61.5 221.6L61.7 221.7L61.9 222.0L62.1 217.9L62.3 220.1L62.5 218.5L62.7 219.9L62.9 217.5L63.1 224.2L63.3 218.6L63.5 222.0L63.7 219.1L63.9 223.6L64.1 222.1L64.3 218.2L64.5 223.7L64.7 224.5L64.9 224.2L65.1 221.8L65.3 218.6L65.5 218.8L65.7 224.4L65.9 221.6L66.1 212.2L66.3 213.0L66.5 222.4L66.7 221.9L66.9 219.9L67.1 220.8L67.3 219.4L67.5 217.8L67.7 224.2L67.9 221.3L68.1 222.0L68.3 220.3L68.5 223.7L68.7 218.0L68.9 220.8L69.1 218.2L69.3 219.1L69.5 225.4L69.7 223.1L69.9 221.4L70.1 222.0L70.3 224.7L70.5 220.7L70.7 222.6L70.9 223.2L71.1 220.6L71.3 222.0L71.5 223.9L71.7 227.1L71.9 219.5L72.1 225.5L72.3 218.4L72.5 224.3L72.7 224.7L72.9 219.5L73.1 221.8L73.3 224.9L73.5 219.0L73.7 223.6L73.9 224.8L74.1 222.8L74.3 225.3L74.5 220.5L74.7 220.4L74.9 221.7L75.1 220.2L75.3 221.6L75.5 226.2L75.7 223.4L75.9 221.8L76.1 221.2L76.3 226.3L76.5 222.3L76.7 226.6L76.9 223.1L77.1 223.2L77.3 226.2L77.5 224.9L77.7 223.5L77.9 222.3L78.1 227.5L78.3 222.2L78.5 225.9L78.7 219.5L78.9 222.2L79.1 223.0L79.3 226.3L79.5 221.0L79.7 225.3L79.9 224.1L80.1 224.2L80.3 223.6L80.5 226.4L80.7 221.7L80.9 222.2L81.1 220.6L81.3 219.7L81.5 219.6L81.7 226.2L81.9 225.6L82.1 220.0L82.3 223.8L82.5 223.0L82.7 223.8L82.9 224.5L83.1 221.9L83.3 226.8L83.5 223.0L83.7 224.2L83.9 224.2L84.1 220.8L84.3 219.7L84.5 222.4L84.7 225.2L84.9 225.8L85.1 225.3L85.3 220.6L85.5 226.7L85.7 225.9L85.9 226.7L86.1 224.1L86.3 227.2L86.5 220.7L86.7 220.6L86.9 220.3L87.1 222.0L87.3 222.1L87.5 221.7L87.7 224.4L87.9 220.5L88.1 224.7L88.3 221.5L88.5 225.4L88.7 220.5L88.9 222.7L89.1 227.2L89.3 224.3L89.5 226.4L89.7 225.2L89.9 225.1L90.1 222.0L90.3 225.1L90.5 221.0L90.7 227.0L90.9 228.1L91.1 227.2L91.3 221.1L91.5 223.3L91.7 223.0L91.9 221.7L92.1 225.6L92.3 226.8L92.5 223.2L92.7 227.5L92.9 227.0L93.1 222.0L93.3 226.8L93.5 227.7L93.7 222.5L93.9 225.3L94.1 225.9L94.3 225.8L94.5 221.9L94.7 226.0L94.9 225.5L95.1 227.0L95.3 226.9L95.5 223.2L95.7 226.2L95.9 227.4L96.1 227.6L96.3 222.1L96.5 221.1L96.7 225.8L96.9 222.5L97.1 225.3L97.3 228.2L97.5 223.7L97.7 223.0L97.9 224.6L98.1 226.2L98.3 222.1L98.5 224.2L98.7 222.3L98.9 226.3L99.1 227.7L99.3 224.2L99.5 224.1L99.7 225.6L99.9 223.0L100.1 223.1L100.3 223.7L100.5 224.7L100.7 221.8L100.9 227.0L101.1 226.1L101.3 223.5L101.5 221.8L101.7 227.0L101.9 222.2L102.1 222.2L102.3 222.1L102.5 219.9L102.7 228.0L102.9 223.3L103.1 222.6L103.3 227.4L103.5 225.9L103.7 222.7L103.9 224.5L104.1 227.9L104.3 224.0L104.5 226.6L104.7 221.7L104.9 226.5L105.1 228.1L105.3 227.3L105.5 226.1L105.7 223.8L105.9 221.5L106.1 225.1L106.3 226.8L106.5 222.3L106.7 223.0L106.9 225.1L107.1 227.8L107.3 227.8L107.5 221.8L107.7 222.5L107.9 227.2L108.1 226.2L108.3 226.8L108.5 228.6L108.7 228.3L108.9 227.4L109.1 226.9L109.3 224.3L109.5 226.3L109.7 222.8L109.9 227.2L110.1 227.1L110.3 227.0L110.5 224.9L110.7 224.4L110.9 224.7L111.1 221.7L111.3 227.9L111.5 225.8L111.7 224.5L111.9 225.8L112.1 227.1L112.3 224.5L112.5 227.8L112.7 228.4L112.9 224.4L113.1 222.5L113.3 227.1L113.5 228.9L113.7 222.4L113.9 226.6L114.1 227.4L114.3 228.2L114.5 222.1L114.7 221.8L114.9 228.5L115.1 222.0L115.3 222.4L115.5 225.5L115.7 224.6L115.9 226.9L116.1 222.7L116.3 228.1L116.5 222.9L116.7 227.0L116.9 221.7L117.1 224.8L117.3 221.3L117.5 223.4L117.7 223.5L117.9 226.5L118.1 224.4L118.3 221.3L118.5 228.3L118.7 227.4L118.9 227.6L119.1 222.4L119.3 223.6L119.5 222.4L119.7 221.5L119.9 220.7L120.1 224.2L120.3 221.4L120.5 221.8L120.7 226.9L120.9 224.2L121.1 221.9L121.3 225.6L121.5 222.7L121.7 224.7L121.9 222.9L122.1 224.8L122.3 225.6L122.5 225.1L122.7 224.0L122.9 227.1L123.1 227.7L123.3 222.4L123.5 222.1L123.7 221.9L123.9 228.7L124.1 230.4L124.3 223.0L124.5 228.5L124.7 222.7L124.9 225.0L125.1 224.9L125.3 228.2L125.5 221.6L125.7 223.5L125.9 225.5L126.1 221.5L126.3 222.7L126.5 224.5L126.7 227.7L126.9 226.6L127.1 227.0L127.3 226.6L127.5 226.1L127.7 227.1L127.9 225.8L128.1 226.0L128.3 222.6L128.5 221.5L128.7 226.1L128.9 221.6L129.1 227.3L129.3 224.8L129.5 222.7L129.7 227.2L129.9 221.4L130.1 224.3L130.3 221.1L130.5 227.7L130.7 224.7L130.9 226.5L131.1 222.6L131.3 226.6L131.5 225.9L131.7 226.1L131.9 227.8L132.1 223.9L132.3 223.7L132.5 225.7L132.7 226.8L132.9 223.0L133.1 225.4L133.3 220.4L133.5 224.4L133.7 226.0L133.9 220.6L134.1 225.5L134.3 219.9L134.5 227.0L134.7 223.2L134.9 222.8L135.1 225.2L135.3 223.7L135.5 225.4L135.7 220.4L135.9 224.0L136.1 224.0L136.3 226.8L136.5 220.2L136.7 223.5L136.9 224.8L137.1 224.4L137.3 220.7L137.5 224.6L137.7 221.9L137.9 221.6L138.1 226.8L138.3 221.7L138.5 223.6L138.7 225.9L138.9 225.5L139.1 224.3L139.3 226.2L139.5 223.5L139.7 224.5L139.9 226.0L140.1 224.8L140.3 224.5L140.5 222.6L140.7 223.6L140.9 222.5L141.1 225.0L141.3 222.2L141.5 222.8L141.7 225.2L141.9 223.3L142.1 222.2L142.3 225.8L142.5 222.5L142.7 226.1L142.9 225.6L143.1 223.1L143.3 225.2L143.5 220.0L143.7 222.7L143.9 226.1L144.1 224.0L144.3 223.7L144.5 224.5L144.7 224.5L144.9 223.7L145.1 222.3L145.3 220.5L145.5 221.3L145.7 221.3L145.9 222.3L146.1 226.6L146.3 221.9L146.5 222.7L146.7 222.2L146.9 224.0L147.1 227.0L147.3 226.6L147.5 222.8L147.7 222.0L147.9 228.4L148.1 223.8L148.3 225.3L148.5 220.6L148.7 226.6L148.9 222.3L149.1 223.6L149.3 221.1L149.5 222.9L149.7 226.2L149.9 226.1L150.1 223.3L150.3 225.6L150.5 223.4L150.7 222.7L150.9 224.2L151.1 221.4L151.3 222.3L151.5 225.3L151.7 225.7L151.9 220.3L152.1 225.5L152.3 226.4L152.5 223.3L152.7 220.4L152.9 225.1L153.1 221.8L153.3 224.7L153.5 222.5L153.7 224.5L153.9 221.5L154.1 223.2L154.3 223.5L154.5 224.2L154.7 221.1L154.9 227.0L155.1 221.9L155.3 222.0L155.5 221.7L155.7 220.2L155.9 222.8L156.1 225.4L156.3 225.0L156.5 221.1L156.7 220.6L156.9 222.2L157.1 225.7L157.3 223.5L157.5 226.9L157.7 224.8L157.9 224.5L158.1 225.7L158.3 225.5L158.5 222.3L158.7 221.6L158.9 223.0L159.1 223.4L159.3 220.8L159.5 223.2L159.7 224.6L159.9 220.8L160.1 220.8L160.3 221.2L160.5 222.1L160.7 227.2L160.9 220.0L161.1 219.7L161.3 219.4L161.5 223.3L161.7 219.8L161.9 223.1L162.1 220.9L162.3 221.5L162.5 225.4L162.7 220.6L162.9 223.8L163.1 222.0L163.3 222.1L163.5 225.1L163.7 220.0L163.9 225.9L164.1 225.6L164.3 223.8L164.5 219.1L164.7 223.8L164.9 223.2L165.1 224.4L165.3 220.6L165.5 226.1L165.7 225.6L165.9 219.6L166.1 221.2L166.3 219.0L166.5 224.9L166.7 225.6L166.9 226.2L167.1 223.8L167.3 223.7L167.5 223.7L167.7 222.8L167.9 225.8L168.1 223.2L168.3 220.9L168.5 222.3L168.8 218.6L169.0 224.2L169.2 223.9L169.4 221.9L169.6 226.8L169.8 224.5L170.0 221.3L170.2 219.3L170.4 219.8L170.6 220.3L170.8 221.3L171.0 222.4L171.2 226.0L171.4 221.0L171.6 225.9L171.8 225.0L172.0 225.3L172.2 222.0L172.4 218.9L172.6 224.8L172.8 220.8L173.0 220.0L173.2 225.1L173.4 224.2L173.6 220.6L173.8 220.9L174.0 225.9L174.2 220.8L174.4 224.0L174.6 219.5L174.8 224.9L175.0 219.7L175.2 222.7L175.4 219.0L175.6 222.9L175.8 225.1L176.0 219.2L176.2 220.7L176.4 224.3L176.6 223.2L176.8 221.0L177.0 223.4L177.2 222.0L177.4 225.2L177.6 220.8L177.8 224.2L178.0 223.3L178.2 223.9L178.4 221.1L178.6 223.6L178.8 223.4L179.0 221.0L179.2 218.1L179.4 225.3L179.6 223.2L179.8 219.3L180.0 223.3L180.2 219.8L180.4 221.2L180.6 224.3L180.8 221.2L181.0 219.8L181.2 219.9L181.4 218.3L181.6 219.3L181.8 219.8L182.0 219.1L182.2 218.3L182.4 221.2L182.6 219.3L182.8 223.2L183.0 224.7L183.2 219.8L183.4 222.1L183.6 221.5L183.8 216.3L184.0 218.7L184.2 224.6L184.4 221.5L184.6 224.2L184.8 218.6L185.0 222.7L185.2 224.8L185.4 225.0L185.6 218.5L185.8 222.6L186.0 221.3L186.2 224.3L186.4 219.3L186.6 220.8L186.8 225.0L187.0 222.3L187.2 222.3L187.4 226.2L187.6 221.1L187.8 219.0L188.0 221.7L188.2 220.0L188.4 219.5L188.6 223.2L188.8 226.1L189.0 223.3L189.2 224.0L189.4 221.4L189.6 223.1L189.8 224.5L190.0 223.4L190.2 225.0L190.4 223.2L190.6 220.8L190.8 223.8L191.0 223.0L191.2 220.4L191.4 224.0L191.6 225.7L191.8 220.5L192.0 223.8L192.2 226.2L192.4 222.9L192.6 222.1L192.8 222.3L193.0 224.2L193.2 225.2L193.4 224.1L193.6 220.6L193.8 226.1L194.0 227.2L194.2 221.1L194.4 222.2L194.6 221.6L194.8 226.8L195.0 227.3L195.2 218.7L195.4 222.9L195.6 221.9L195.8 224.0L196.0 227.6L196.2 221.3L196.4 222.3L196.6 224.7L196.8 225.1L197.0 226.8L197.2 224.6L197.4 222.3L197.6 224.0L197.8 228.9L198.0 227.0L198.2 222.3L198.4 227.4L198.6 222.9L198.8 227.6L199.0 221.8L199.2 228.4L199.4 223.0L199.6 225.3L199.8 226.8L200.0 225.6L200.2 223.0L200.4 221.2L200.6 224.0L200.8 220.3L201.0 223.7L201.2 223.1L201.4 225.8L201.6 224.8L201.8 226.5L202.0 224.1L202.2 222.3L202.4 224.5L202.6 227.7L202.8 223.9L203.0 225.2L203.2 227.8L203.4 225.1L203.6 228.9L203.8 229.0L204.0 224.4L204.2 227.5L204.4 223.9L204.6 223.3L204.8 225.5L205.0 226.9L205.2 229.5L205.4 223.5L205.6 227.8L205.8 226.0L206.0 223.4L206.2 229.8L206.4 227.7L206.6 223.4L206.8 229.4L207.0 223.4L207.2 223.3L207.4 225.2L207.6 229.7L207.8 222.9L208.0 229.6L208.2 227.3L208.4 223.3L208.6 227.3L208.8 226.3L209.0 227.1L209.2 228.5L209.4 228.1L209.6 230.5L209.8 224.0L210.0 229.0L210.2 226.0L210.4 228.8L210.6 229.7L210.8 230.4L211.0 224.9L211.2 226.4L211.4 230.2L211.6 230.1L211.8 226.0L212.0 230.4L212.2 226.4L212.4 226.5L212.6 229.3L212.8 227.3L213.0 227.2L213.2 226.8L213.4 227.2L213.6 224.8L213.8 224.2L214.0 229.6L214.2 227.9L214.4 228.7L214.6 229.8L214.8 225.4L215.0 225.5L215.2 225.7L215.4 225.8L215.6 229.4L215.8 226.3L216.0 225.8L216.2 228.4L216.4 225.0L216.6 224.7L216.8 229.1L217.0 229.4L217.2 226.1L217.4 228.7L217.6 224.1L217.8 227.1L218.0 228.3L218.2 226.0L218.4 226.7L218.6 228.6L218.8 229.0L219.0 225.3L219.2 229.4L219.4 224.6L219.6 231.3L219.8 225.6L220.0 226.1L220.2 225.6L220.4 231.8L220.6 226.5L220.8 228.7L221.0 231.6L221.2 233.6L221.4 224.8L221.6 228.5L221.8 229.2L222.0 229.9L222.2 227.0L222.4 227.0L222.6 224.7L222.8 225.0L223.0 228.9L223.2 225.4L223.4 226.2L223.6 227.2L223.8 223.4L224.0 225.1L224.2 231.8L224.4 227.9L224.6 226.1L224.8 230.0L225.0 224.9L225.2 226.8L225.4 232.2L225.6 231.6L225.8 229.7L226.0 225.6L226.2 227.2L226.4 225.1L226.6 226.6L226.8 225.1L227.0 225.8L227.2 229.7L227.4 225.7L227.6 226.3L227.8 233.7L228.0 226.6L228.2 227.5L228.4 225.7L228.6 231.2L228.8 230.4L229.0 229.3L229.2 230.0L229.4 226.2L229.6 227.2L229.8 229.7L230.0 232.6L230.2 231.6L230.4 230.3L230.6 229.3L230.8 223.2L231.0 232.1L231.2 225.7L231.4 226.1L231.6 230.5L231.8 231.2L232.0 231.1L232.2 228.5L232.4 226.3L232.6 225.5L232.8 231.7L233.0 232.7L233.2 227.1L233.4 231.9L233.6 228.5L233.8 227.9L234.0 229.5L234.2 225.6L234.4 229.2L234.6 227.3L234.8 231.3L235.0 229.9L235.2 232.7L235.4 232.8L235.6 228.3L235.8 228.0L236.0 233.0L236.2 229.7L236.4 226.6L236.6 226.2L236.8 233.3L237.0 230.2L237.2 226.3L237.4 229.6L237.6 229.5L237.8 228.9L238.0 232.7L238.2 232.7L238.4 226.5L238.6 226.8L238.8 228.8L239.0 232.1L239.2 230.6L239.4 231.4L239.6 230.2L239.8 227.4L240.0 232.1L240.2 226.2L240.4 231.4L240.6 227.6L240.8 229.9L241.0 234.0L241.2 230.7L241.4 227.2L241.6 230.1L241.8 231.9L242.0 227.4L242.2 228.9L242.4 227.3L242.6 231.4L242.8 230.3L243.0 231.2L243.2 228.7L243.4 232.4L243.6 228.7L243.8 234.1L244.0 234.4L244.2 230.8L244.4 230.5L244.6 233.4L244.8 229.1L245.0 233.1L245.2 229.3L245.4 232.6L245.6 229.5L245.8 231.5L246.0 233.9L246.2 227.3L246.4 232.9L246.6 230.9L246.8 229.8L247.0 229.8L247.2 227.6L247.4 229.2L247.6 231.9L247.8 227.9L248.0 232.1L248.2 234.2L248.4 234.5L248.6 233.8L248.8 233.3L249.0 228.6L249.2 234.7L249.4 229.0L249.6 234.1L249.8 234.2L250.0 232.2L250.2 231.6L250.4 227.8L250.6 231.7L250.8 230.0L251.0 228.9L251.2 228.9L251.4 233.9L251.6 234.8L251.8 228.9L252.0 228.0L252.2 228.6L252.4 228.8L252.6 229.1L252.8 232.1L253.0 231.1L253.2 230.9L253.4 229.3L253.6 232.6L253.8 229.7L254.0 230.5L254.2 230.8L254.4 234.0L254.6 229.1L254.8 233.7L255.0 229.7L255.2 234.1L255.4 230.6L255.6 231.5L255.8 234.2L256.0 232.8L256.2 228.6L256.4 228.9L256.6 235.6L256.8 228.5L257.0 230.6L257.2 235.7L257.4 228.8L257.6 228.4L257.8 230.4L258.0 229.4L258.2 232.3L258.4 233.1L258.6 231.1L258.8 229.6L259.0 234.7L259.2 234.7L259.4 232.8L259.6 229.7L259.8 232.7L260.0 233.4L260.2 232.1L260.4 235.4L260.6 231.9L260.8 232.9L261.0 230.1L261.2 233.6L261.4 235.1L261.6 235.0L261.8 231.6L262.0 237.1L262.2 235.0L262.4 233.1L262.6 233.0L262.8 235.6L263.0 229.8L263.2 234.6L263.4 235.2L263.6 233.6L263.8 236.2L264.0 233.3L264.2 233.1L264.4 231.7L264.6 236.2L264.8 231.7L265.0 234.4L265.2 232.5L265.4 236.4L265.6 236.6L265.8 227.9L266.0 237.1L266.2 234.3L266.4 230.4L266.6 233.6L266.8 230.3L267.0 233.9L267.2 231.3L267.4 232.7L267.6 232.2L267.8 234.4L268.0 236.0L268.2 236.8L268.4 232.3L268.6 234.0L268.8 229.9L269.0 232.5L269.2 236.6L269.4 230.5L269.6 235.7L269.8 234.1L270.0 231.6L270.2 235.0L270.4 231.6L270.6 236.1L270.8 230.4L271.0 230.8L271.2 235.4L271.4 233.4L271.6 231.4L271.8 234.0L272.0 232.5L272.2 234.6L272.4 235.9L272.6 236.8L272.8 231.2L273.0 235.1L273.2 238.0L273.4 234.2L273.6 236.3L273.8 231.7L274.0 237.0L274.2 234.9L274.4 236.9L274.6 236.0L274.8 236.5L275.0 230.9L275.2 235.7L275.4 232.2L275.6 232.9L275.8 233.5L276.0 235.2L276.2 235.5L276.4 237.6L276.6 231.1L276.8 232.4L277.0 233.8L277.2 237.0L277.4 235.4L277.6 235.2L277.8 236.9L278.0 236.2L278.2 233.5L278.4 232.1L278.6 234.8L278.8 239.3L279.0 235.7L279.2 232.1L279.4 234.8L279.6 234.0L279.8 235.9L280.0 235.9L280.2 238.5L280.4 233.4L280.6 234.6L280.8 236.1L281.0 238.1L281.2 236.8L281.4 235.2L281.6 237.4L281.8 235.2L282.0 238.5L282.2 233.7L282.4 232.8L282.6 237.8L282.8 234.2L283.0 238.1L283.2 236.5L283.4 235.9L283.6 233.1L283.8 238.1L284.0 233.2L284.2 239.5L284.4 238.9L284.6 235.1L284.8 234.0L285.0 239.2L285.2 236.6L285.4 234.0L285.6 236.6L285.8 234.8L286.0 235.8L286.2 237.4L286.4 239.2L286.6 238.5L286.8 234.0L287.0 236.1L287.2 236.1L287.4 239.4L287.6 233.3L287.8 236.2L288.0 239.1L288.2 235.6L288.4 234.9L288.6 237.0L288.8 235.5L289.0 239.5L289.2 233.9L289.4 234.8L289.6 234.0L289.8 238.3L290.0 235.6L290.2 239.9L290.4 239.9L290.6 240.2L290.8 235.7L291.0 234.1L291.2 236.8L291.4 240.6L291.6 239.1L291.8 234.5L292.0 239.0L292.2 240.6L292.4 241.0L292.6 239.3L292.8 240.4L293.0 240.1L293.2 236.8L293.4 235.1L293.6 239.4L293.8 235.6L294.0 237.3L294.2 241.3L294.4 238.5L294.6 238.4L294.8 241.2L295.0 236.7L295.2 241.4L295.4 240.9L295.6 237.5L295.8 237.3L296.0 236.1L296.2 241.4L296.4 236.6L296.6 235.4L296.8 241.2L297.0 239.3L297.2 239.9L297.4 240.2L297.6 235.9L297.8 236.3L298.0 239.1L298.2 236.1L298.4 238.9L298.6 240.4L298.8 239.9L299.0 239.7L299.2 236.0L299.4 237.4L299.6 241.7L299.8 236.7L300.0 239.5L300.2 236.4L300.4 242.2L300.6 237.2L300.8 238.6L301.0 239.6L301.2 240.7L301.4 242.3L301.6 241.1L301.8 238.7L302.0 237.0L302.2 241.0L302.4 242.8L302.6 236.7L302.8 241.6L303.0 237.7L303.2 239.6L303.4 240.1L303.6 240.7L303.8 243.2L304.0 241.2L304.2 239.4L304.4 241.6L304.6 240.1L304.8 239.7L305.0 239.0L305.2 240.4L305.4 239.0L305.6 238.8L305.8 238.1L306.0 240.1L306.2 239.2L306.4 242.6L306.6 242.6L306.8 239.6L307.0 241.4L307.2 243.2L307.4 239.7L307.6 240.9L307.8 240.2L308.0 241.3L308.2 243.3L308.4 238.1L308.6 243.3L308.8 241.5L309.0 242.3L309.2 241.3L309.4 242.8L309.6 239.5L309.8 241.9L310.0 239.1L310.2 240.8L310.4 242.0L310.6 238.8L310.8 238.0L311.0 242.7L311.2 242.9L311.4 242.0L311.6 240.0L311.8 242.1L312.0 238.6L312.2 242.2L312.4 241.7L312.6 242.0L312.8 240.9L313.0 239.5L313.2 242.5L313.4 240.8L313.6 242.8L313.8 240.5L314.0 238.9L314.2 241.6L314.4 242.4L314.6 244.2L314.8 243.9L315.0 238.9L315.2 243.4L315.4 240.3L315.6 243.0L315.8 241.0L316.0 240.8L316.2 241.9L316.4 242.2L316.6 243.3L316.8 243.0L317.0 243.2L317.2 241.5L317.4 243.2L317.6 241.2L317.8 242.8L318.0 242.1L318.2 242.6L318.4 239.3L318.6 242.4L318.8 239.7L319.0 241.7L319.2 240.0L319.4 243.5L319.6 245.0L319.8 241.8L320.0 240.5L320.2 243.6L320.4 240.7L320.6 245.3L320.8 240.7L321.0 242.1L321.2 243.0L321.4 240.6L321.6 241.8L321.8 241.5L322.0 244.1L322.2 245.7L322.4 242.0L322.6 244.6L322.8 240.7L323.0 243.2L323.2 242.4L323.4 241.5L323.6 244.6L323.8 244.3L324.0 240.7L324.2 241.7L324.4 245.0L324.6 246.1L324.8 244.1L325.0 245.4L325.2 246.1L325.4 244.7L325.6 244.1L325.8 241.7L326.0 242.6L326.2 244.2L326.4 246.0L326.6 242.3L326.8 242.8L327.0 240.5L327.2 244.5L327.4 242.9L327.6 245.0L327.8 241.8L328.0 244.3L328.2 244.3L328.4 243.2L328.6 241.6L328.8 242.8L329.0 244.8L329.2 241.6L329.4 241.0L329.6 243.4L329.8 242.0L330.0 245.3L330.2 245.4L330.4 246.3L330.6 245.6L330.8 244.6L331.0 240.9L331.2 245.7L331.4 245.0L331.6 245.1L331.8 244.7L332.0 245.5L332.2 242.5L332.4 244.7L332.6 243.8L332.8 242.9L333.0 242.8L333.2 241.8L333.4 243.7L333.6 243.1L333.8 243.4L334.0 245.9L334.2 244.9L334.4 245.1L334.6 246.9L334.8 242.6L335.0 244.3L335.2 242.1L335.4 243.6L335.6 246.7L335.8 241.8L336.0 245.7L336.2 246.4L336.4 244.4L336.6 246.0L336.8 244.0L337.0 243.5L337.2 244.4L337.4 242.7L337.6 243.2L337.8 243.4L338.0 247.1L338.2 243.4L338.4 243.0L338.6 247.1L338.8 242.6L339.0 247.1L339.2 246.5L339.4 245.3L339.6 244.1L339.8 242.8L340.0 242.4L340.2 242.4L340.4 243.8L340.6 244.2L340.8 246.9L341.0 244.7L341.2 247.2L341.4 245.7L341.6 242.6L341.8 245.0L342.0 242.8L342.2 242.3L342.4 247.3L342.6 244.0L342.8 243.2L343.0 242.8L343.2 245.9L343.4 244.7L343.6 242.2L343.8 246.1L344.0 242.9L344.2 246.4L344.4 244.8L344.6 245.1L344.8 244.6L345.0 245.8L345.2 247.6L345.4 246.6L345.6 242.7L345.8 245.1L346.0 243.7L346.2 242.9L346.4 243.6L346.6 243.9L346.8 247.8L347.0 246.6L347.2 247.3L347.4 246.5L347.6 244.4L347.8 244.9L348.0 245.1L348.2 244.4L348.4 244.8L348.6 246.9L348.8 243.3L349.0 244.3L349.2 245.4L349.4 246.3L349.6 246.2L349.8 246.7L350.0 243.5L350.2 243.8L350.4 244.6L350.6 244.5L350.8 246.9L351.0 248.1L351.2 247.0L351.4 243.0L351.6 244.5L351.8 247.0L352.0 247.7L352.2 246.0L352.4 244.6L352.6 244.5L352.8 246.0L353.0 247.2L353.2 244.5L353.4 243.6L353.6 242.7L353.8 243.4L354.0 247.2L354.2 246.0L354.4 247.8L354.6 243.1L354.8 244.6L355.0 246.9L355.2 246.2L355.4 243.4L355.6 245.3L355.8 246.9L356.0 247.4L356.2 245.7L356.4 244.4L356.6 248.3L356.8 246.0L357.0 247.8L357.2 246.3L357.4 244.1L357.6 245.0L357.8 244.0L358.0 244.7L358.2 244.7L358.4 245.4L358.6 245.2L358.8 245.3L359.0 247.6L359.2 243.7L359.4 244.1L359.6 247.7L359.8 246.2L360.0 245.8L360.2 245.0L360.4 246.4L360.6 244.7L360.8 249.0L361.0 247.7L361.2 245.3L361.4 243.9L361.6 248.2L361.8 245.3L362.0 247.1L362.2 248.0L362.4 247.7L362.6 247.9L362.8 246.1L363.0 247.8L363.2 245.8L363.4 244.9L363.6 246.0L363.8 245.2L364.0 247.5L364.2 247.8L364.4 244.4L364.6 244.5L364.8 245.6L365.0 246.1L365.2 248.5L365.4 248.4L365.6 248.6L365.8 247.5L366.0 247.4L366.2 245.4L366.4 245.9L366.6 244.2L366.8 248.2L367.0 245.5L367.2 244.6L367.4 245.9L367.6 245.9L367.8 247.8L368.0 244.4L368.2 245.5L368.4 248.7L368.6 248.5L368.8 247.5L369.0 247.0L369.2 245.5L369.4 248.6L369.6 248.0L369.8 246.8L370.0 245.2L370.2 245.5L370.4 246.3L370.6 246.1L370.8 244.8L371.0 246.4L371.2 246.6L371.4 245.9L371.6 246.4L371.8 246.2L372.0 246.5L372.2 247.6L372.4 247.1L372.6 245.6L372.8 248.5L373.0 247.1L373.2 246.8L373.4 247.9L373.6 248.1L373.8 248.7L374.0 248.3L374.2 247.7L374.4 248.0L374.6 245.4L374.8 247.7L375.0 245.8L375.2 245.8L375.4 245.2L375.6 246.5L375.8 244.8L376.0 247.7L376.2 248.1L376.4 248.3L376.6 245.4L376.8 247.7L377.0 248.6L377.2 245.0L377.4 245.7L377.6 246.1L377.8 247.1L378.0 245.7L378.2 247.4L378.4 246.6L378.6 248.0L378.8 247.5L379.0 248.1L379.2 246.2L379.4 248.3L379.6 248.4L379.8 248.3L380.0 245.5L380.2 249.4L380.4 247.8L380.6 246.5L380.8 247.1L381.0 247.5L381.2 247.5L381.4 246.4L381.6 246.4L381.8 246.8L382.0 248.7L382.2 247.1L382.4 245.4L382.6 247.2L382.8 246.0L383.0 245.2L383.2 250.6L383.4 246.4L383.6 247.7L383.8 246.9L384.0 245.6L384.2 249.3L384.4 249.4L384.6 246.2L384.8 247.3L385.0 247.1L385.2 246.3L385.4 248.4L385.6 248.9L385.8 248.9L386.0 248.6L386.2 245.8L386.4 245.9L386.6 247.7L386.8 248.6L387.0 247.1L387.2 247.3L387.4 249.1L387.6 245.7L387.8 246.7L388.0 246.8L388.2 249.8L388.4 246.5L388.6 245.7L388.8 247.4L389.0 248.4L389.2 246.2L389.4 249.0L389.6 246.4L389.8 248.6L390.0 246.3L390.2 249.4L390.4 246.5L390.6 248.6L390.8 249.0L391.0 246.6L391.2 245.8L391.4 248.0L391.6 247.6L391.8 247.5L392.0 249.5L392.2 247.5L392.4 247.7L392.6 247.6L392.8 247.4L393.0 247.2L393.2 246.1L393.4 246.8L393.6 246.9L393.8 246.7L394.0 249.0L394.2 246.2L394.4 246.7L394.6 248.1L394.8 247.1L395.0 246.7L395.2 247.3L395.4 247.9L395.6 248.7L395.8 249.9L396.0 249.5L396.2 247.8L396.4 247.9L396.6 247.7L396.8 247.0L397.0 250.0L397.2 246.4L397.4 246.9L397.6 248.8L397.8 248.5L398.0 247.3L398.2 250.1L398.4 247.9L398.6 248.6L398.8 246.5L399.0 249.8L399.2 246.4L399.4 247.6L399.6 249.6L399.8 249.9L400.0 249.7L400.2 249.3L400.4 246.9L400.6 246.2L400.8 247.9L401.0 246.3L401.2 250.0L401.4 246.1L401.6 247.4L401.8 247.0L402.0 246.3L402.2 248.4L402.4 246.7L402.6 250.2L402.8 249.3L403.0 248.0L403.2 249.9L403.4 250.5L403.6 247.8L403.8 250.0L404.0 250.3L404.2 249.0L404.4 247.9L404.6 250.2L404.8 250.3L405.0 247.9L405.2 246.8L405.4 249.9L405.6 249.1L405.8 247.3L406.0 248.7L406.2 247.7L406.4 250.1L406.6 247.7L406.8 247.1L407.0 246.6L407.3 247.8L407.5 250.4L407.7 247.2L407.9 248.2L408.1 250.2L408.3 246.3L408.5 247.5L408.7 249.6L408.9 246.7L409.1 250.0L409.3 249.7L409.5 246.9L409.7 248.8L409.9 248.6L410.1 249.1L410.3 247.6L410.5 248.0L410.7 247.4L410.9 247.7L411.1 247.3L411.3 250.2L411.5 250.1L411.7 248.1L411.9 249.9L412.1 248.7L412.3 247.9L412.5 248.2L412.7 250.6L412.9 248.1L413.1 249.2L413.3 250.6L413.5 248.0L413.7 250.0L413.9 246.3L414.1 249.6L414.3 249.9L414.5 250.0L414.7 250.6L414.9 249.5L415.1 250.6L415.3 247.9L415.5 248.8L415.7 247.7L415.9 247.2L416.1 248.5L416.3 249.5L416.5 249.8L416.7 245.7L416.9 250.5L417.1 247.3L417.3 248.0L417.5 250.1L417.7 250.3L417.9 249.7L418.1 248.1L418.3 248.6L418.5 250.1L418.7 247.8L418.9 249.9L419.1 249.8L419.3 248.6L419.5 250.3L419.7 248.1L419.9 249.8L420.1 249.4L420.3 248.1L420.5 248.9L420.7 249.1L420.9 248.9L421.1 247.2L421.3 250.5L421.5 250.5L421.7 247.0L421.9 250.5L422.1 248.9L422.3 247.3L422.5 249.9L422.7 248.4L422.9 249.5L423.1 249.9L423.3 248.9L423.5 247.1L423.7 250.1L423.9 249.6L424.1 250.3L424.3 247.9L424.5 249.9L424.7 250.2L424.9 248.3L425.1 248.5L425.3 248.2L425.5 247.0L425.7 247.8L425.9 248.2L426.1 247.3L426.3 249.8L426.5 248.5L426.7 249.0L426.9 248.0L427.1 248.2L427.3 249.7L427.5 248.6L427.7 249.0L427.9 248.4L428.1 248.9L428.3 250.3L428.5 247.9L428.7 248.9L428.9 249.5L429.1 247.2L429.3 250.5L429.5 248.8L429.7 247.8L429.9 249.7L430.1 250.0L430.3 249.4L430.5 250.5L430.7 247.4L430.9 249.0L431.1 250.4L431.3 250.5L431.5 249.3L431.7 249.2L431.9 248.4L432.1 249.1L432.3 249.1L432.5 250.5L432.7 250.2L432.9 249.9L433.1 250.6L433.3 247.4L433.5 250.0L433.7 248.9L433.9 250.0L434.1 248.3L434.3 249.0L434.5 250.4L434.7 247.6L434.9 248.7L435.1 249.3L435.3 250.6L435.5 248.4L435.7 250.4L435.9 248.2L436.1 248.4L436.3 249.4L436.5 249.8L436.7 250.6L436.9 250.6L437.1 248.3L437.3 250.1L437.5 249.7L437.7 248.7L437.9 250.1L438.1 250.5L438.3 249.0L438.5 250.7L438.7 247.9L438.9 248.0L439.1 250.2L439.3 248.5L439.5 249.4L439.7 249.0L439.9 247.8L440.1 250.0L440.3 250.0L440.5 247.8L440.7 248.3L440.9 250.1L441.1 250.5L441.3 250.4L441.5 249.0L441.7 248.5L441.9 248.8L442.1 247.8L442.3 248.9L442.5 248.0L442.7 247.7L442.9 248.5L443.1 247.3L443.3 248.7L443.5 249.5L443.7 249.6L443.9 250.5L444.1 250.2L444.3 249.3L444.5 250.3L444.7 248.6L444.9 250.0L445.1 248.2L445.3 249.1L445.5 250.9L445.7 249.5L445.9 249.2L446.1 250.2L446.3 248.6L446.5 250.4L446.7 247.5L446.9 248.3L447.1 248.1L447.3 248.4L447.5 250.8L447.7 247.5L447.9 248.4L448.1 249.4L448.3 249.9L448.5 250.1L448.7 248.8L448.9 248.1L449.1 250.3L449.3 247.8L449.5 247.5L449.7 248.1L449.9 249.1L450.1 250.6L450.3 249.9L450.5 249.3L450.7 249.1L450.9 249.8L451.1 249.5L451.3 248.4L451.5 247.5L451.7 247.9L451.9 250.0L452.1 249.5L452.3 250.1L452.5 247.5L452.7 250.6L452.9 248.7L453.1 250.7L453.3 249.7L453.5 249.4L453.7 250.3L453.9 249.6L454.1 249.7L454.3 247.9L454.5 249.6L454.7 248.8L454.9 247.8L455.1 248.1L455.3 249.2L455.5 248.5L455.7 250.3L455.9 248.0L456.1 247.7L456.3 251.1L456.5 248.7L456.7 249.4L456.9 248.4L457.1 248.4L457.3 249.1L457.5 250.3L457.7 246.7L457.9 250.4L458.1 252.0L458.3 249.4L458.5 248.7L458.7 248.2L458.9 248.0L459.1 248.5L459.3 250.2L459.5 247.3L459.7 250.1L459.9 249.6L460.1 247.4L460.3 247.6L460.5 249.9L460.7 249.6L460.9 248.4L461.1 250.4L461.3 248.0L461.5 248.8L461.7 247.7L461.9 249.7L462.1 247.7L462.3 248.0L462.5 250.1L462.7 249.1L462.9 249.7L463.1 249.9L463.3 249.5L463.5 248.1L463.7 249.9L463.9 247.9L464.1 248.3L464.3 249.0L464.5 247.8L464.7 247.8L464.9 249.7L465.1 250.0L465.3 248.8L465.5 248.8L465.7 248.3L465.9 249.4L466.1 249.6L466.3 250.9L466.5 247.8L466.7 250.8L466.9 251.1L467.1 248.9L467.3 250.2L467.5 250.6L467.7 250.0L467.9 248.7L468.1 249.8L468.3 250.8L468.5 248.2L468.7 249.4L468.9 247.8L469.1 250.7L469.3 250.4L469.5 247.9L469.7 250.3L469.9 250.2L470.1 248.2L470.3 249.7L470.5 250.1L470.7 248.9L470.9 249.6L471.1 251.2L471.3 249.9L471.5 249.5L471.7 248.0L471.9 247.4L472.1 250.7L472.3 250.4L472.5 251.4L472.7 249.8L472.9 249.7L473.1 249.6L473.3 250.2L473.5 248.8L473.7 249.4L473.9 249.2L474.1 249.9L474.3 248.4L474.5 247.7L474.7 248.0L474.9 248.4L475.1 250.7L475.3 250.2L475.5 250.4L475.7 249.3L475.9 248.2L476.1 249.4L476.3 250.9L476.5 249.7L476.7 250.2L476.9 249.3L477.1 248.5L477.3 250.2L477.5 249.7L477.7 249.2L477.9 248.8L478.1 250.4L478.3 249.0L478.5 249.9L478.7 248.8L478.9 250.5L479.1 249.2L479.3 249.5L479.5 251.1L479.7 250.4L479.9 250.5L480.1 249.1L480.3 250.8L480.5 249.2L480.7 251.2L480.9 250.9L481.1 250.2L481.3 250.8L481.5 249.8L481.7 250.5L481.9 248.4L482.1 251.4L482.3 251.3L482.5 248.5L482.7 248.8L482.9 249.9L483.1 250.6L483.3 248.5L483.5 251.3L483.7 249.2L483.9 251.5L484.1 250.7L484.3 249.8L484.5 249.3L484.7 248.4L484.9 248.4L485.1 250.3L485.3 250.8L485.5 251.2L485.7 249.3L485.9 251.3L486.1 249.2L486.3 251.3L486.5 251.2L486.7 248.6L486.9 251.1L487.1 250.5L487.3 250.5L487.5 251.0L487.7 250.0L487.9 249.9L488.1 249.4L488.3 251.1L488.5 251.2L488.7 248.7L488.9 250.8L489.1 249.1L489.3 248.9L489.5 248.9L489.7 250.2L489.9 249.1L490.1 248.5L490.3 247.8L490.5 249.3L490.7 250.8L490.9 248.2L491.1 249.9L491.3 250.3L491.5 248.4L491.7 249.3L491.9 251.3L492.1 251.6L492.3 251.1L492.5 248.9L492.7 250.9L492.9 249.9L493.1 248.9L493.3 250.0L493.5 251.5L493.7 251.4L493.9 249.8L494.1 248.7L494.3 251.5L494.5 251.8L494.7 250.3L494.9 249.2L495.1 250.3L495.3 250.8L495.5 250.1L495.7 249.6L495.9 249.2L496.1 249.4L496.3 248.6L496.5 249.3L496.7 251.6L496.9 248.4L497.1 250.8L497.3 251.0L497.5 249.7L497.7 250.5L497.9 249.1L498.1 250.6L498.3 250.8L498.5 250.9L498.7 250.1L498.9 251.8L499.1 251.4L499.3 250.5L499.5 250.8L499.7 249.6L499.9 251.9L500.1 250.9L500.3 251.8L500.5 249.7L500.7 252.1L500.9 249.2L501.1 250.6L501.3 249.2L501.5 249.5L501.7 251.4L501.9 249.1L502.1 249.8L502.3 249.4L502.5 251.7L502.7 249.1L502.9 249.9L503.1 251.5L503.3 251.0L503.5 251.0L503.7 252.0L503.9 248.7L504.1 250.9L504.3 251.2L504.5 251.2L504.7 251.1L504.9 249.0L505.1 249.2L505.3 251.4L505.5 250.8L505.7 249.7L505.9 248.9L506.1 250.6L506.3 249.2L506.5 251.4L506.7 249.7L506.9 251.6L507.1 249.2L507.3 250.6L507.5 249.3L507.7 251.5L507.9 250.8L508.1 249.7L508.3 252.3L508.5 251.4L508.7 250.3L508.9 252.0L509.1 250.4L509.3 252.2L509.5 250.1L509.7 252.4L509.9 249.4L510.1 251.5L510.3 250.1L510.5 250.5L510.7 251.3L510.9 249.3L511.1 249.9L511.3 249.5L511.5 251.6L511.7 249.8L511.9 250.8L512.1 250.3L512.3 250.0L512.5 252.3L512.7 251.0L512.9 251.5L513.1 251.7L513.3 252.1L513.5 250.2L513.7 249.6L513.9 250.9L514.1 249.9L514.3 249.4L514.5 252.4L514.7 251.4L514.9 250.8L515.1 249.9L515.3 251.9L515.5 251.2L515.7 250.0L515.9 252.5L516.1 252.4L516.3 252.3L516.5 252.0L516.7 251.1L516.9 250.3L517.1 251.4L517.3 249.8L517.5 251.3L517.7 249.5L517.9 249.2L518.1 251.5L518.3 250.3L518.5 251.5L518.7 252.3L518.9 252.0L519.1 251.4L519.3 252.2L519.5 251.6L519.7 252.5L519.9 252.4L520.1 249.7L520.3 250.0L520.5 250.9L520.7 250.5L520.9 250.2L521.1 252.5L521.3 249.8L521.5 250.4L521.7 252.3L521.9 250.5L522.1 250.6L522.3 252.9L522.5 252.2L522.7 251.2L522.9 250.1L523.1 250.5L523.3 252.9L523.5 252.3L523.7 250.0L523.9 252.2L524.1 251.1L524.3 252.2L524.5 250.7L524.7 250.1L524.9 249.8L525.1 250.7L525.3 252.6L525.5 252.7L525.7 252.4L525.9 252.3L526.1 250.5L526.3 251.0" stroke="#ff0000" stroke-width="2.2" fill="none" stroke-linejoin="round"/>
<path d="M49.5 271.6L49.7 275.6L49.9 274.2L50.1 271.5L50.3 272.2L50.5 274.8L50.7 274.4L50.9 272.8L51.1 273.1L51.3 276.3L51.5 275.4L51.7 275.0L51.9 276.4L52.1 272.8L52.3 273.3L52.5 275.9L52.7 273.8L52.9 273.8L53.1 275.8L53.3 276.7L53.5 277.4L53.7 275.5L53.9 273.8L54.1 275.2L54.3 272.7L54.5 272.8L54.7 272.4L54.9 274.9L55.1 276.2L55.3 275.9L55.5 272.6L55.7 274.6L55.9 273.1L56.1 275.4L56.3 273.7L56.5 272.3L56.7 272.5L56.9 271.5L57.1 272.5L57.3 272.8L57.5 273.4L57.7 274.5L57.9 276.0L58.1 275.3L58.3 274.1L58.5 272.9L58.7 271.9L58.9 274.0L59.1 271.3L59.3 271.1L59.5 274.2L59.7 270.6L59.9 275.3L60.1 274.3L60.3 273.5L60.5 275.5L60.7 271.3L60.9 272.1L61.1 273.2L61.3 275.6L61.5 270.9L61.7 273.6L61.9 275.3L62.1 271.2L62.3 274.1L62.5 274.2L62.7 272.5L62.9 273.4L63.1 275.5L63.3 273.1L63.5 273.3L63.7 273.8L63.9 271.2L64.1 275.2L64.3 271.3L64.5 276.2L64.7 276.4L64.9 275.6L65.1 276.2L65.3 275.2L65.5 273.2L65.7 274.6L65.9 275.1L66.1 272.3L66.3 275.6L66.5 273.1L66.7 274.2L66.9 272.9L67.1 273.0L67.3 276.2L67.5 275.6L67.7 271.8L67.9 275.6L68.1 276.3L68.3 275.2L68.5 275.2L68.7 273.2L68.9 275.4L69.1 273.7L69.3 276.7L69.5 275.6L69.7 273.6L69.9 276.4L70.1 275.9L70.3 273.1L70.5 273.2L70.7 272.2L70.9 276.2L71.1 272.7L71.3 273.7L71.5 276.3L71.7 274.1L71.9 274.0L72.1 272.8L72.3 272.7L72.5 275.5L72.7 273.4L72.9 277.9L73.1 273.0L73.3 274.4L73.5 273.8L73.7 277.6L73.9 276.9L74.1 273.5L74.3 273.3L74.5 273.4L74.7 276.8L74.9 276.8L75.1 276.3L75.3 275.6L75.5 275.3L75.7 276.1L75.9 273.5L76.1 277.1L76.3 277.1L76.5 276.6L76.7 274.4L76.9 273.4L77.1 278.2L77.3 278.0L77.5 277.0L77.7 277.1L77.9 275.4L78.1 277.7L78.3 276.7L78.5 275.4L78.7 276.8L78.9 273.7L79.1 275.5L79.3 277.8L79.5 275.8L79.7 276.3L79.9 276.3L80.1 278.2L80.3 274.4L80.5 276.9L80.7 275.8L80.9 274.8L81.1 273.6L81.3 276.7L81.5 274.6L81.7 276.6L81.9 275.8L82.1 275.6L82.3 278.2L82.5 274.1L82.7 276.4L82.9 275.6L83.1 274.4L83.3 275.8L83.5 278.2L83.7 274.6L83.9 277.0L84.1 274.9L84.3 276.2L84.5 276.3L84.7 273.9L84.9 277.8L85.1 275.6L85.3 274.7L85.5 274.7L85.7 278.7L85.9 278.5L86.1 276.1L86.3 274.9L86.5 278.0L86.7 274.1L86.9 278.4L87.1 274.0L87.3 274.2L87.5 275.7L87.7 276.3L87.9 273.9L88.1 275.4L88.3 279.0L88.5 278.0L88.7 272.9L88.9 278.4L89.1 276.3L89.3 279.1L89.5 275.5L89.7 275.4L89.9 277.3L90.1 276.3L90.3 275.1L90.5 276.5L90.7 277.0L90.9 275.3L91.1 278.0L91.3 277.4L91.5 277.5L91.7 277.1L91.9 275.0L92.1 277.5L92.3 274.7L92.5 274.6L92.7 276.6L92.9 274.8L93.1 274.6L93.3 277.1L93.5 279.2L93.7 274.3L93.9 276.3L94.1 274.4L94.3 276.9L94.5 277.0L94.7 276.7L94.9 274.3L95.1 277.6L95.3 276.7L95.5 277.0L95.7 277.6L95.9 278.9L96.1 276.4L96.3 278.9L96.5 275.1L96.7 276.7L96.9 275.3L97.1 276.4L97.3 279.2L97.5 279.5L97.7 276.8L97.9 275.8L98.1 276.2L98.3 279.1L98.5 276.8L98.7 275.4L98.9 278.8L99.1 277.1L99.3 276.7L99.5 279.0L99.7 278.0L99.9 274.1L100.1 278.9L100.3 276.2L100.5 274.9L100.7 278.7L100.9 276.1L101.1 278.1L101.3 277.9L101.5 274.9L101.7 279.1L101.9 276.7L102.1 274.0L102.3 276.4L102.5 273.8L102.7 278.8L102.9 277.2L103.1 275.7L103.3 277.9L103.5 277.7L103.7 277.2L103.9 274.7L104.1 274.0L104.3 277.9L104.5 279.3L104.7 275.2L104.9 275.5L105.1 275.6L105.3 274.9L105.5 278.3L105.7 276.3L105.9 277.2L106.1 276.7L106.3 274.0L106.5 273.9L106.7 274.4L106.9 276.1L107.1 276.7L107.3 278.6L107.5 278.0L107.7 277.0L107.9 275.1L108.1 274.8L108.3 276.6L108.5 274.8L108.7 276.9L108.9 276.7L109.1 273.3L109.3 276.7L109.5 273.0L109.7 274.1L109.9 277.6L110.1 275.9L110.3 277.1L110.5 277.5L110.7 274.0L110.9 276.8L111.1 274.6L111.3 273.1L111.5 273.2L111.7 273.4L111.9 276.0L112.1 276.1L112.3 277.3L112.5 274.4L112.7 276.8L112.9 274.2L113.1 274.4L113.3 276.1L113.5 274.2L113.7 277.7L113.9 274.1L114.1 273.7L114.3 277.0L114.5 277.0L114.7 273.1L114.9 274.1L115.1 274.9L115.3 272.5L115.5 274.0L115.7 276.1L115.9 276.0L116.1 272.6L116.3 273.5L116.5 273.2L116.7 275.5L116.9 272.6L117.1 276.9L117.3 272.3L117.5 274.5L117.7 275.6L117.9 276.7L118.1 274.9L118.3 276.2L118.5 274.5L118.7 271.9L118.9 273.9L119.1 274.9L119.3 274.4L119.5 275.6L119.7 274.3L119.9 273.4L120.1 274.1L120.3 274.1L120.5 271.3L120.7 272.8L120.9 274.1L121.1 274.8L121.3 273.2L121.5 274.8L121.7 273.4L121.9 272.7L122.1 272.0L122.3 274.9L122.5 275.7L122.7 274.7L122.9 271.9L123.1 274.6L123.3 273.4L123.5 275.7L123.7 270.6L123.9 274.8L124.1 273.1L124.3 275.2L124.5 273.8L124.7 270.4L124.9 274.0L125.1 273.0L125.3 271.5L125.5 270.8L125.7 272.2L125.9 272.9L126.1 272.4L126.3 269.9L126.5 270.5L126.7 273.5L126.9 272.6L127.1 273.7L127.3 271.8L127.5 271.0L127.7 273.9L127.9 269.7L128.1 269.8L128.3 271.4L128.5 271.8L128.7 270.4L128.9 274.4L129.1 270.4L129.3 269.7L129.5 272.5L129.7 269.5L129.9 270.3L130.1 270.9L130.3 270.0L130.5 272.6L130.7 269.4L130.9 272.1L131.1 269.0L131.3 271.5L131.5 273.5L131.7 272.5L131.9 273.3L132.1 271.1L132.3 268.9L132.5 269.9L132.7 271.9L132.9 268.2L133.1 271.1L133.3 269.1L133.5 272.3L133.7 269.1L133.9 268.9L134.1 268.6L134.3 270.0L134.5 272.2L134.7 269.9L134.9 270.9L135.1 269.6L135.3 267.2L135.5 269.9L135.7 269.9L135.9 269.8L136.1 268.2L136.3 267.9L136.5 268.1L136.7 266.2L136.9 266.9L137.1 267.4L137.3 268.5L137.5 270.5L137.7 269.2L137.9 268.1L138.1 269.2L138.3 267.6L138.5 265.4L138.7 268.8L138.9 268.8L139.1 268.4L139.3 269.3L139.5 268.8L139.7 268.9L139.9 264.4L140.1 269.6L140.3 267.3L140.5 267.3L140.7 267.4L140.9 265.4L141.1 265.5L141.3 268.7L141.5 267.2L141.7 269.1L141.9 265.0L142.1 267.0L142.3 267.1L142.5 263.9L142.7 267.3L142.9 265.9L143.1 266.2L143.3 264.8L143.5 267.2L143.7 267.6L143.9 270.0L144.1 268.4L144.3 269.0L144.5 268.9L144.7 267.3L144.9 265.0L145.1 266.3L145.3 263.9L145.5 266.6L145.7 265.1L145.9 266.4L146.1 267.4L146.3 263.5L146.5 267.9L146.7 263.1L146.9 265.6L147.1 264.0L147.3 263.2L147.5 265.5L147.7 264.2L147.9 263.2L148.1 267.5L148.3 264.0L148.5 268.0L148.7 266.1L148.9 264.6L149.1 262.9L149.3 267.4L149.5 263.1L149.7 266.8L149.9 265.3L150.1 264.8L150.3 262.6L150.5 264.3L150.7 262.2L150.9 266.4L151.1 265.9L151.3 262.7L151.5 264.6L151.7 262.7L151.9 265.7L152.1 262.7L152.3 262.4L152.5 263.0L152.7 266.9L152.9 266.0L153.1 263.7L153.3 265.7L153.5 263.2L153.7 262.1L153.9 266.2L154.1 261.1L154.3 265.5L154.5 266.4L154.7 261.2L154.9 266.7L155.1 264.8L155.3 260.6L155.5 262.9L155.7 261.7L155.9 262.4L156.1 262.2L156.3 262.3L156.5 260.0L156.7 261.6L156.9 260.8L157.1 263.6L157.3 263.8L157.5 264.9L157.7 263.3L157.9 264.9L158.1 262.9L158.3 261.4L158.5 259.8L158.7 263.8L158.9 263.0L159.1 260.5L159.3 262.6L159.5 265.2L159.7 263.0L159.9 261.3L160.1 264.3L160.3 261.9L160.5 259.5L160.7 259.9L160.9 265.2L161.1 260.0L161.3 264.1L161.5 259.5L161.7 262.0L161.9 260.9L162.1 261.3L162.3 259.7L162.5 261.4L162.7 263.5L162.9 261.9L163.1 259.4L163.3 263.5L163.5 263.9L163.7 261.2L163.9 260.7L164.1 258.5L164.3 258.7L164.5 260.6L164.7 258.9L164.9 264.3L165.1 262.3L165.3 260.2L165.5 261.9L165.7 259.3L165.9 264.0L166.1 261.4L166.3 262.7L166.5 259.4L166.7 261.1L166.9 262.5L167.1 260.6L167.3 258.4L167.5 261.0L167.7 263.2L167.9 260.9L168.1 264.1L168.3 261.4L168.5 263.4L168.8 258.1L169.0 261.8L169.2 260.9L169.4 259.7L169.6 263.2L169.8 257.9L170.0 260.4L170.2 259.1L170.4 263.3L170.6 262.1L170.8 258.3L171.0 257.7L171.2 257.1L171.4 258.1L171.6 262.9L171.8 262.5L172.0 261.8L172.2 259.2L172.4 259.8L172.6 260.7L172.8 262.0L173.0 256.9L173.2 258.1L173.4 260.7L173.6 257.7L173.8 262.8L174.0 256.9L174.2 262.9L174.4 257.8L174.6 257.6L174.8 259.0L175.0 260.8L175.2 263.1L175.4 259.8L175.6 262.6L175.8 262.5L176.0 263.0L176.2 258.7L176.4 259.5L176.6 256.5L176.8 258.9L177.0 258.6L177.2 257.0L177.4 261.8L177.6 258.2L177.8 257.1L178.0 257.1L178.2 256.5L178.4 261.4L178.6 259.8L178.8 259.8L179.0 259.0L179.2 264.7L179.4 258.7L179.6 259.5L179.8 261.2L180.0 262.8L180.2 262.3L180.4 262.4L180.6 257.7L180.8 262.8L181.0 261.8L181.2 258.4L181.4 261.7L181.6 262.6L181.8 261.2L182.0 261.1L182.2 261.8L182.4 262.2L182.6 261.5L182.8 256.6L183.0 257.5L183.2 257.0L183.4 259.5L183.6 256.8L183.8 260.1L184.0 262.8L184.2 263.2L184.4 256.7L184.6 261.3L184.8 257.6L185.0 262.8L185.2 256.9L185.4 257.3L185.6 258.9L185.8 256.6L186.0 261.2L186.2 257.9L186.4 261.3L186.6 262.7L186.8 259.5L187.0 259.6L187.2 263.3L187.4 257.6L187.6 262.4L187.8 261.2L188.0 256.4L188.2 258.6L188.4 261.5L188.6 256.8L188.8 262.4L189.0 262.8L189.2 261.7L189.4 262.1L189.6 260.7L189.8 262.2L190.0 259.9L190.2 259.3L190.4 261.3L190.6 259.5L190.8 258.5L191.0 258.2L191.2 259.3L191.4 259.0L191.6 261.6L191.8 262.0L192.0 262.2L192.2 262.6L192.4 259.4L192.6 259.6L192.8 262.7L193.0 258.1L193.2 261.9L193.4 260.7L193.6 261.8L193.8 262.0L194.0 261.7L194.2 258.8L194.4 257.3L194.6 263.8L194.8 263.3L195.0 260.7L195.2 261.6L195.4 257.6L195.6 260.2L195.8 261.2L196.0 262.0L196.2 258.7L196.4 258.0L196.6 264.0L196.8 263.3L197.0 258.7L197.2 263.1L197.4 263.1L197.6 258.8L197.8 263.2L198.0 260.2L198.2 259.9L198.4 258.8L198.6 261.8L198.8 261.7L199.0 261.0L199.2 258.4L199.4 263.1L199.6 259.7L199.8 259.4L200.0 262.1L200.2 259.2L200.4 264.1L200.6 262.3L200.8 263.2L201.0 260.3L201.2 261.1L201.4 260.0L201.6 260.0L201.8 261.4L202.0 264.0L202.2 262.0L202.4 264.2L202.6 259.4L202.8 260.7L203.0 258.9L203.2 264.8L203.4 259.3L203.6 262.7L203.8 263.7L204.0 260.6L204.2 265.9L204.4 265.9L204.6 261.2L204.8 260.4L205.0 264.0L205.2 263.0L205.4 263.8L205.6 263.9L205.8 266.3L206.0 265.1L206.2 262.0L206.4 264.8L206.6 262.7L206.8 266.2L207.0 262.8L207.2 259.6L207.4 265.6L207.6 261.2L207.8 265.0L208.0 263.5L208.2 264.4L208.4 265.3L208.6 265.5L208.8 265.0L209.0 263.8L209.2 261.9L209.4 263.1L209.6 261.7L209.8 262.1L210.0 263.2L210.2 263.0L210.4 261.4L210.6 262.3L210.8 262.3L211.0 261.7L211.2 264.6L211.4 261.4L211.6 262.5L211.8 262.0L212.0 265.7L212.2 262.9L212.4 261.8L212.6 266.6L212.8 264.3L213.0 266.8L213.2 263.6L213.4 263.8L213.6 265.3L213.8 262.0L214.0 267.9L214.2 262.2L214.4 267.2L214.6 265.6L214.8 267.2L215.0 262.5L215.2 267.1L215.4 264.7L215.6 263.9L215.8 262.3L216.0 262.1L216.2 266.8L216.4 267.6L216.6 264.1L216.8 266.3L217.0 266.3L217.2 265.0L217.4 264.9L217.6 265.4L217.8 264.2L218.0 266.8L218.2 264.7L218.4 265.3L218.6 263.3L218.8 268.5L219.0 262.8L219.2 266.9L219.4 266.5L219.6 264.4L219.8 268.6L220.0 262.5L220.2 264.1L220.4 264.5L220.6 266.6L220.8 266.4L221.0 268.0L221.2 268.2L221.4 262.6L221.6 266.2L221.8 265.3L222.0 267.1L222.2 266.1L222.4 265.0L222.6 262.8L222.8 264.9L223.0 265.7L223.2 264.9L223.4 265.2L223.6 266.9L223.8 264.9L224.0 268.1L224.2 265.0L224.4 265.4L224.6 265.4L224.8 268.4L225.0 266.6L225.2 269.0L225.4 263.0L225.6 268.9L225.8 264.1L226.0 268.6L226.2 263.2L226.4 268.4L226.6 267.1L226.8 267.4L227.0 265.6L227.2 265.8L227.4 264.5L227.6 264.6L227.8 267.7L228.0 265.3L228.2 263.9L228.4 264.9L228.6 265.0L228.8 265.2L229.0 267.0L229.2 270.0L229.4 268.0L229.6 269.0L229.8 265.0L230.0 268.9L230.2 271.3L230.4 270.7L230.6 268.8L230.8 268.5L231.0 270.2L231.2 265.0L231.4 269.2L231.6 268.8L231.8 269.0L232.0 266.7L232.2 263.6L232.4 265.5L232.6 269.0L232.8 266.0L233.0 270.6L233.2 265.4L233.4 269.6L233.6 267.7L233.8 266.7L234.0 266.5L234.2 267.2L234.4 267.1L234.6 266.2L234.8 266.1L235.0 270.8L235.2 267.4L235.4 268.5L235.6 269.0L235.8 266.8L236.0 270.6L236.2 266.7L236.4 266.1L236.6 265.2L236.8 266.6L237.0 265.4L237.2 268.9L237.4 268.7L237.6 265.3L237.8 271.2L238.0 269.8L238.2 268.6L238.4 271.2L238.6 268.6L238.8 266.3L239.0 270.2L239.2 271.3L239.4 265.9L239.6 268.6L239.8 267.0L240.0 271.2L240.2 266.2L240.4 270.5L240.6 266.8L240.8 269.5L241.0 269.8L241.2 270.2L241.4 266.1L241.6 268.8L241.8 266.6L242.0 266.5L242.2 266.7L242.4 266.6L242.6 271.4L242.8 268.9L243.0 267.2L243.2 268.6L243.4 266.1L243.6 267.1L243.8 269.6L244.0 270.1L244.2 269.7L244.4 271.9L244.6 271.8L244.8 272.3L245.0 268.8L245.2 270.6L245.4 267.5L245.6 271.2L245.8 267.6L246.0 272.1L246.2 266.2L246.4 270.9L246.6 269.0L246.8 271.0L247.0 269.1L247.2 270.9L247.4 270.2L247.6 269.8L247.8 271.7L248.0 266.8L248.2 271.8L248.4 269.4L248.6 270.6L248.8 270.4L249.0 268.8L249.2 269.4L249.4 272.2L249.6 269.3L249.8 271.9L250.0 266.4L250.2 270.0L250.4 270.7L250.6 269.1L250.8 267.1L251.0 271.3L251.2 271.1L251.4 268.8L251.6 266.9L251.8 271.4L252.0 271.1L252.2 271.6L252.4 271.5L252.6 267.4L252.8 270.4L253.0 269.6L253.2 269.1L253.4 269.3L253.6 270.7L253.8 272.9L254.0 269.7L254.2 269.1L254.4 270.9L254.6 271.0L254.8 269.7L255.0 271.1L255.2 271.3L255.4 271.8L255.6 268.4L255.8 271.3L256.0 270.0L256.2 272.7L256.4 271.2L256.6 272.5L256.8 272.4L257.0 268.9L257.2 268.2L257.4 272.2L257.6 268.1L257.8 273.3L258.0 271.7L258.2 270.2L258.4 271.7L258.6 268.6L258.8 271.6L259.0 273.3L259.2 268.0L259.4 273.5L259.6 270.0L259.8 270.6L260.0 274.0L260.2 273.2L260.4 270.8L260.6 274.3L260.8 268.8L261.0 272.5L261.2 271.7L261.4 273.9L261.6 268.9L261.8 270.6L262.0 271.5L262.2 269.1L262.4 272.4L262.6 273.5L262.8 273.9L263.0 269.4L263.2 271.5L263.4 274.3L263.6 269.1L263.8 272.9L264.0 270.6L264.2 274.2L264.4 272.5L264.6 274.3L264.8 269.5L265.0 272.8L265.2 271.8L265.4 270.1L265.6 271.7L265.8 273.6L266.0 272.7L266.2 273.1L266.4 270.9L266.6 272.3L266.8 271.9L267.0 274.5L267.2 274.4L267.4 271.9L267.6 272.2L267.8 271.1L268.0 272.8L268.2 270.0L268.4 274.8L268.6 271.8L268.8 269.5L269.0 271.3L269.2 275.0L269.4 271.3L269.6 271.8L269.8 275.2L270.0 274.0L270.2 271.2L270.4 270.6L270.6 271.9L270.8 271.8L271.0 274.9L271.2 273.1L271.4 275.3L271.6 275.6L271.8 275.0L272.0 272.4L272.2 272.4L272.4 273.4L272.6 274.0L272.8 275.0L273.0 275.0L273.2 272.2L273.4 274.5L273.6 272.7L273.8 275.0L274.0 270.7L274.2 275.3L274.4 274.5L274.6 271.5L274.8 272.1L275.0 272.4L275.2 273.6L275.4 275.8L275.6 276.2L275.8 274.1L276.0 271.4L276.2 276.3L276.4 276.3L276.6 271.5L276.8 274.6L277.0 274.7L277.2 274.6L277.4 275.0L277.6 271.1L277.8 272.8L278.0 273.0L278.2 274.8L278.4 271.9L278.6 273.0L278.8 271.5L279.0 271.8L279.2 274.0L279.4 272.5L279.6 273.9L279.8 272.5L280.0 275.7L280.2 272.2L280.4 275.8L280.6 275.4L280.8 271.7L281.0 274.1L281.2 274.1L281.4 274.4L281.6 275.6L281.8 272.1L282.0 273.0L282.2 275.9L282.4 272.8L282.6 276.9L282.8 274.3L283.0 272.5L283.2 276.4L283.4 273.6L283.6 277.4L283.8 277.1L284.0 277.0L284.2 277.1L284.4 272.8L284.6 272.6L284.8 274.4L285.0 274.5L285.2 274.4L285.4 275.4L285.6 276.4L285.8 276.6L286.0 277.3L286.2 275.9L286.4 276.9L286.6 272.9L286.8 272.5L287.0 274.7L287.2 276.9L287.4 274.4L287.6 273.1L287.8 273.3L288.0 274.1L288.2 277.5L288.4 274.7L288.6 277.5L288.8 277.9L289.0 277.2L289.2 278.1L289.4 274.7L289.6 274.4L289.8 274.8L290.0 273.7L290.2 278.4L290.4 274.7L290.6 276.9L290.8 275.1L291.0 276.4L291.2 276.0L291.4 277.5L291.6 274.8L291.8 275.3L292.0 274.5L292.2 275.5L292.4 278.2L292.6 279.0L292.8 274.2L293.0 278.4L293.2 278.0L293.4 274.6L293.6 275.0L293.8 278.7L294.0 275.3L294.2 279.0L294.4 277.1L294.6 279.6L294.8 277.1L295.0 275.1L295.2 277.6L295.4 276.7L295.6 274.8L295.8 278.7L296.0 279.2L296.2 279.7L296.4 278.1L296.6 277.9L296.8 276.0L297.0 280.0L297.2 278.9L297.4 278.6L297.6 278.8L297.8 279.7L298.0 277.3L298.2 276.1L298.4 280.7L298.6 275.9L298.8 277.1L299.0 278.2L299.2 276.1L299.4 277.4L299.6 280.2L299.8 279.0L300.0 278.8L300.2 276.0L300.4 278.0L300.6 276.5L300.8 277.8L301.0 277.9L301.2 278.2L301.4 277.6L301.6 280.0L301.8 278.4L302.0 280.7L302.2 277.8L302.4 276.8L302.6 277.9L302.8 280.5L303.0 277.9L303.2 280.3L303.4 279.8L303.6 277.7L303.8 277.3L304.0 276.9L304.2 278.6L304.4 279.9L304.6 278.0L304.8 281.3L305.0 276.7L305.2 280.6L305.4 277.6L305.6 281.8L305.8 277.5L306.0 281.6L306.2 279.1L306.4 278.6L306.6 277.4L306.8 278.4L307.0 279.3L307.2 282.1L307.4 282.3L307.6 277.9L307.8 280.3L308.0 277.8L308.2 278.2L308.4 280.7L308.6 280.4L308.8 282.2L309.0 282.2L309.2 278.6L309.4 280.9L309.6 281.8L309.8 281.7L310.0 280.6L310.2 280.4L310.4 280.8L310.6 280.2L310.8 280.9L311.0 282.5L311.2 279.9L311.4 280.4L311.6 280.4L311.8 282.5L312.0 279.5L312.2 280.5L312.4 282.0L312.6 280.3L312.8 282.5L313.0 281.2L313.2 279.1L313.4 280.3L313.6 279.3L313.8 280.8L314.0 280.4L314.2 280.4L314.4 282.7L314.6 283.0L314.8 282.4L315.0 282.6L315.2 283.3L315.4 283.5L315.6 280.1L315.8 283.6L316.0 280.1L316.2 280.7L316.4 283.2L316.6 280.2L316.8 284.0L317.0 283.9L317.2 279.6L317.4 282.7L317.6 284.2L317.8 282.4L318.0 282.5L318.2 282.7L318.4 282.6L318.6 282.7L318.8 283.4L319.0 284.6L319.2 280.6L319.4 281.4L319.6 280.4L319.8 280.8L320.0 281.4L320.2 284.6L320.4 281.9L320.6 283.3L320.8 282.0L321.0 285.0L321.2 281.5L321.4 282.4L321.6 282.4L321.8 281.5L322.0 280.9L322.2 282.4L322.4 281.6L322.6 280.8L322.8 284.8L323.0 282.4L323.2 281.0L323.4 283.7L323.6 283.1L323.8 284.1L324.0 282.7L324.2 281.7L324.4 283.9L324.6 282.9L324.8 285.1L325.0 282.7L325.2 282.3L325.4 282.1L325.6 282.5L325.8 281.7L326.0 283.7L326.2 283.0L326.4 285.8L326.6 282.3L326.8 285.7L327.0 283.0L327.2 283.7L327.4 285.9L327.6 285.2L327.8 286.0L328.0 284.3L328.2 283.2L328.4 284.8L328.6 284.9L328.8 282.1L329.0 282.5L329.2 286.3L329.4 285.3L329.6 285.9L329.8 283.1L330.0 286.6L330.2 283.7L330.4 283.0L330.6 284.0L330.8 284.0L331.0 282.8L331.2 286.2L331.4 286.4L331.6 283.5L331.8 285.1L332.0 286.4L332.2 284.3L332.4 284.8L332.6 283.0L332.8 284.7L333.0 284.0L333.2 286.3L333.4 283.5L333.6 283.0L333.8 286.6L334.0 283.5L334.2 285.3L334.4 286.0L334.6 284.4L334.8 287.1L335.0 284.6L335.2 283.9L335.4 283.5L335.6 287.1L335.8 284.2L336.0 287.2L336.2 285.3L336.4 287.4L336.6 283.8L336.8 287.2L337.0 287.8L337.2 286.6L337.4 283.3L337.6 288.0L337.8 287.2L338.0 284.7L338.2 288.1L338.4 284.4L338.6 284.7L338.8 284.3L339.0 286.8L339.2 286.0L339.4 284.6L339.6 286.4L339.8 288.1L340.0 284.9L340.2 287.2L340.4 285.3L340.6 286.7L340.8 286.0L341.0 285.8L341.2 284.7L341.4 287.1L341.6 286.5L341.8 287.5L342.0 285.4L342.2 288.7L342.4 284.7L342.6 285.5L342.8 287.3L343.0 285.3L343.2 285.8L343.4 286.8L343.6 287.9L343.8 288.3L344.0 286.2L344.2 287.5L344.4 285.0L344.6 288.4L344.8 287.6L345.0 288.6L345.2 285.9L345.4 287.1L345.6 288.8L345.8 285.2L346.0 288.6L346.2 288.1L346.4 288.4L346.6 285.8L346.8 288.3L347.0 287.6L347.2 285.9L347.4 285.8L347.6 288.9L347.8 287.0L348.0 286.5L348.2 287.0L348.4 288.3L348.6 286.1L348.8 286.1L349.0 288.4L349.2 289.0L349.4 288.3L349.6 289.4L349.8 286.8L350.0 287.1L350.2 287.1L350.4 287.0L350.6 286.7L350.8 288.7L351.0 286.8L351.2 287.3L351.4 287.5L351.6 289.6L351.8 287.0L352.0 288.5L352.2 287.1L352.4 289.0L352.6 287.4L352.8 286.0L353.0 288.1L353.2 287.3L353.4 287.1L353.6 287.2L353.8 286.2L354.0 289.0L354.2 288.3L354.4 288.7L354.6 288.5L354.8 287.9L355.0 288.2L355.2 288.3L355.4 290.1L355.6 287.9L355.8 287.2L356.0 286.9L356.2 287.9L356.4 288.8L356.6 288.9L356.8 289.5L357.0 289.3L357.2 287.1L357.4 288.3L357.6 288.2L357.8 287.2L358.0 289.0L358.2 289.6L358.4 286.9L358.6 288.7L358.8 287.1L359.0 289.7L359.2 288.8L359.4 287.1L359.6 288.8L359.8 287.8L360.0 287.7L360.2 289.4L360.4 288.5L360.6 290.5L360.8 290.6L361.0 290.3L361.2 288.7L361.4 290.5L361.6 287.4L361.8 290.1L362.0 288.5L362.2 290.5L362.4 287.3L362.6 289.4L362.8 287.4L363.0 288.2L363.2 289.2L363.4 287.6L363.6 289.6L363.8 289.0L364.0 288.0L364.2 289.1L364.4 288.8L364.6 287.3L364.8 289.8L365.0 289.9L365.2 290.6L365.4 290.7L365.6 288.6L365.8 289.6L366.0 289.6L366.2 287.6L366.4 290.0L366.6 288.3L366.8 288.9L367.0 289.7L367.2 289.3L367.4 288.1L367.6 290.7L367.8 287.9L368.0 289.8L368.2 288.2L368.4 290.9L368.6 291.0L368.8 290.3L369.0 290.9L369.2 290.4L369.4 290.1L369.6 290.4L369.8 291.0L370.0 288.5L370.2 290.3L370.4 288.2L370.6 289.3L370.8 288.9L371.0 290.0L371.2 290.4L371.4 291.0L371.6 290.8L371.8 288.0L372.0 288.4L372.2 287.9L372.4 290.4L372.6 289.0L372.8 291.3L373.0 288.5L373.2 291.3L373.4 290.5L373.6 290.5L373.8 289.9L374.0 290.9L374.2 288.5L374.4 290.7L374.6 290.8L374.8 289.9L375.0 290.1L375.2 288.6L375.4 289.6L375.6 290.2L375.8 289.1L376.0 288.2L376.2 291.4L376.4 291.0L376.6 289.4L376.8 290.0L377.0 290.3L377.2 291.7L377.4 290.3L377.6 291.0L377.8 291.3L378.0 288.8L378.2 290.5L378.4 291.7L378.6 292.0L378.8 291.7L379.0 289.1L379.2 291.2L379.4 289.4L379.6 291.6L379.8 291.3L380.0 289.8L380.2 290.5L380.4 290.2L380.6 291.7L380.8 290.3L381.0 288.7L381.2 290.4L381.4 288.5L381.6 288.8L381.8 290.0L382.0 289.9L382.2 288.6L382.4 289.5L382.6 289.3L382.8 289.0L383.0 290.0L383.2 288.6L383.4 288.5L383.6 289.2L383.8 290.8L384.0 291.7L384.2 291.0L384.4 288.8L384.6 291.4L384.8 291.4L385.0 291.4L385.2 291.0L385.4 289.4L385.6 290.2L385.8 290.0L386.0 288.7L386.2 290.4L386.4 289.5L386.6 291.8L386.8 290.8L387.0 291.3L387.2 288.7L387.4 291.0L387.6 291.2L387.8 290.1L388.0 289.5L388.2 290.3L388.4 290.5L388.6 290.1L388.8 289.6L389.0 290.8L389.2 291.5L389.4 289.4L389.6 291.5L389.8 288.9L390.0 291.0L390.2 289.8L390.4 290.4L390.6 289.9L390.8 289.0L391.0 289.3L391.2 291.9L391.4 290.0L391.6 291.8L391.8 290.5L392.0 291.7L392.2 290.3L392.4 292.1L392.6 290.3L392.8 289.5L393.0 289.3L393.2 288.9L393.4 289.0L393.6 290.9L393.8 289.9L394.0 291.5L394.2 289.4L394.4 291.7L394.6 289.3L394.8 289.5L395.0 289.8L395.2 289.4L395.4 289.9L395.6 291.3L395.8 289.0L396.0 289.7L396.2 289.1L396.4 291.5L396.6 289.4L396.8 290.7L397.0 291.9L397.2 290.2L397.4 289.5L397.6 290.0L397.8 292.2L398.0 289.5L398.2 292.0L398.4 289.7L398.6 289.7L398.8 291.6L399.0 291.2L399.2 290.1L399.4 291.4L399.6 289.6L399.8 292.0L400.0 290.9L400.2 292.1L400.4 291.0L400.6 291.0L400.8 291.9L401.0 291.0L401.2 289.4L401.4 291.1L401.6 290.2L401.8 291.3L402.0 292.5L402.2 291.3L402.4 292.0L402.6 290.5L402.8 289.3L403.0 289.4L403.2 289.3L403.4 290.0L403.6 290.2L403.8 290.1L404.0 291.5L404.2 291.7L404.4 291.8L404.6 291.8L404.8 292.1L405.0 291.7L405.2 290.9L405.4 290.7L405.6 289.6L405.8 289.4L406.0 292.1L406.2 289.9L406.4 292.1L406.6 290.7L406.8 289.5L407.0 291.9L407.3 291.6L407.5 292.5L407.7 291.0L407.9 292.2L408.1 290.9L408.3 290.1L408.5 290.5L408.7 291.4L408.9 292.1L409.1 291.9L409.3 292.2L409.5 291.0L409.7 290.8L409.9 291.1L410.1 292.4L410.3 290.6L410.5 289.6L410.7 290.6L410.9 291.5L411.1 292.1L411.3 292.4L411.5 291.7L411.7 292.0L411.9 292.1L412.1 292.0L412.3 291.3L412.5 292.4L412.7 292.3L412.9 289.5L413.1 289.9L413.3 292.6L413.5 291.6L413.7 290.0L413.9 292.4L414.1 289.8L414.3 291.2L414.5 290.8L414.7 290.5L414.9 290.4L415.1 290.0L415.3 290.9L415.5 290.0L415.7 291.6L415.9 290.7L416.1 292.1L416.3 292.7L416.5 292.5L416.7 292.1L416.9 292.7L417.1 290.1L417.3 292.8L417.5 291.6L417.7 291.5L417.9 291.9L418.1 290.4L418.3 291.2L418.5 290.2L418.7 292.5L418.9 291.2L419.1 290.1L419.3 292.6L419.5 291.4L419.7 291.9L419.9 292.0L420.1 291.6L420.3 290.9L420.5 290.4L420.7 289.8L420.9 291.5L421.1 290.0L421.3 290.9L421.5 292.4L421.7 292.6L421.9 292.4L422.1 290.5L422.3 292.6L422.5 290.3L422.7 292.6L422.9 292.2L423.1 292.8L423.3 292.9L423.5 291.5L423.7 290.9L423.9 293.4L424.1 290.8L424.3 290.9L424.5 291.7L424.7 290.3L424.9 291.3L425.1 290.4L425.3 291.4L425.5 292.7L425.7 292.8L425.9 292.9L426.1 292.7L426.3 292.3L426.5 291.4L426.7 293.4L426.9 290.5L427.1 290.5L427.3 290.4L427.5 291.3L427.7 290.3L427.9 292.2L428.1 290.6L428.3 292.1L428.5 291.7L428.7 292.0L428.9 292.1L429.1 292.4L429.3 291.5L429.5 291.8L429.7 291.0L429.9 291.8L430.1 290.6L430.3 293.1L430.5 293.0L430.7 290.6L430.9 290.4L431.1 291.5L431.3 291.9L431.5 291.8L431.7 291.4L431.9 292.3L432.1 291.6L432.3 291.6L432.5 290.5L432.7 292.1L432.9 290.6L433.1 292.8L433.3 291.7L433.5 291.4L433.7 292.3L433.9 292.9L434.1 290.9L434.3 291.5L434.5 293.1L434.7 292.7L434.9 291.4L435.1 291.3L435.3 292.7L435.5 290.6L435.7 290.7L435.9 292.0L436.1 292.0L436.3 292.1L436.5 292.6L436.7 292.9L436.9 291.6L437.1 291.4L437.3 292.8L437.5 291.1L437.7 292.9L437.9 292.4L438.1 292.8L438.3 292.2L438.5 290.7L438.7 292.4L438.9 291.8L439.1 290.8L439.3 290.5L439.5 291.0L439.7 290.6L439.9 290.7L440.1 292.7L440.3 293.0L440.5 293.2L440.7 292.0L440.9 292.1L441.1 290.7L441.3 290.8L441.5 292.7L441.7 292.2L441.9 292.2L442.1 292.7L442.3 292.9L442.5 292.7L442.7 290.8L442.9 292.2L443.1 293.0L443.3 293.0L443.5 293.3L443.7 292.1L443.9 292.2L444.1 290.7L444.3 292.1L444.5 292.3L444.7 293.2L444.9 293.2L445.1 290.9L445.3 291.1L445.5 291.8L445.7 292.9L445.9 291.2L446.1 293.0L446.3 292.6L446.5 293.3L446.7 291.8L446.9 291.9L447.1 291.0L447.3 292.3L447.5 293.0L447.7 292.3L447.9 292.2L448.1 293.3L448.3 292.9L448.5 291.3L448.7 293.3L448.9 292.8L449.1 291.5L449.3 291.3L449.5 292.6L449.7 292.2L449.9 292.6L450.1 291.2L450.3 292.9L450.5 293.2L450.7 292.0L450.9 291.6L451.1 294.3L451.3 293.5L451.5 291.2L451.7 292.3L451.9 292.0L452.1 291.6L452.3 292.3L452.5 292.7L452.7 291.8L452.9 291.6L453.1 293.2L453.3 292.6L453.5 291.7L453.7 291.3L453.9 291.9L454.1 293.5L454.3 293.7L454.5 291.5L454.7 292.7L454.9 291.0L455.1 293.6L455.3 293.7L455.5 291.6L455.7 292.0L455.9 291.9L456.1 291.6L456.3 292.9L456.5 291.9L456.7 291.0L456.9 291.6L457.1 292.8L457.3 292.9L457.5 291.1L457.7 292.5L457.9 292.8L458.1 292.7L458.3 292.7L458.5 293.1L458.7 291.9L458.9 293.3L459.1 292.1L459.3 291.1L459.5 292.8L459.7 291.9L459.9 292.7L460.1 292.0L460.3 292.4L460.5 292.5L460.7 292.9L460.9 291.8L461.1 292.8L461.3 291.7L461.5 293.7L461.7 291.6L461.9 291.2L462.1 290.4L462.3 292.6L462.5 291.9L462.7 292.6L462.9 291.9L463.1 292.3L463.3 293.5L463.5 293.6L463.7 291.1L463.9 293.6L464.1 292.4L464.3 293.0L464.5 293.6L464.7 291.6L464.9 292.1L465.1 293.5L465.3 292.5L465.5 293.5L465.7 293.4L465.9 293.9L466.1 292.9L466.3 291.3L466.5 293.6L466.7 291.7L466.9 291.6L467.1 292.2L467.3 291.8L467.5 291.6L467.7 293.0L467.9 293.7L468.1 292.0L468.3 292.4L468.5 293.3L468.7 292.2L468.9 292.6L469.1 293.8L469.3 291.6L469.5 292.6L469.7 291.8L469.9 293.3L470.1 291.8L470.3 293.4L470.5 292.3L470.7 293.7L470.9 292.2L471.1 292.5L471.3 291.5L471.5 291.9L471.7 292.3L471.9 293.6L472.1 292.7L472.3 293.4L472.5 293.6L472.7 291.6L472.9 292.2L473.1 293.5L473.3 293.3L473.5 292.9L473.7 292.4L473.9 292.7L474.1 291.3L474.3 291.6L474.5 292.2L474.7 291.6L474.9 291.9L475.1 293.5L475.3 293.3L475.5 293.2L475.7 292.7L475.9 293.7L476.1 291.9L476.3 292.9L476.5 292.4L476.7 293.8L476.9 292.3L477.1 292.0L477.3 293.5L477.5 293.6L477.7 293.4L477.9 293.5L478.1 292.0L478.3 293.1L478.5 292.9L478.7 293.9L478.9 292.6L479.1 292.2L479.3 292.3L479.5 292.9L479.7 294.2L479.9 293.4L480.1 293.5L480.3 292.8L480.5 292.6L480.7 294.1L480.9 292.8L481.1 292.0L481.3 293.7L481.5 292.2L481.7 292.7L481.9 293.3L482.1 293.9L482.3 291.7L482.5 293.4L482.7 292.0L482.9 293.3L483.1 293.4L483.3 293.0L483.5 292.7L483.7 293.1L483.9 294.2L484.1 292.6L484.3 292.9L484.5 292.1L484.7 292.7L484.9 291.9L485.1 294.2L485.3 292.7L485.5 294.3L485.7 292.2L485.9 293.6L486.1 293.4L486.3 293.6L486.5 293.9L486.7 292.0L486.9 293.8L487.1 291.9L487.3 292.7L487.5 294.1L487.7 293.4L487.9 295.0L488.1 294.1L488.3 293.0L488.5 292.6L488.7 292.3L488.9 292.0L489.1 293.7L489.3 294.0L489.5 292.1L489.7 293.2L489.9 294.1L490.1 293.6L490.3 293.0L490.5 294.4L490.7 293.0L490.9 292.7L491.1 293.2L491.3 292.8L491.5 293.0L491.7 293.3L491.9 292.2L492.1 293.6L492.3 293.5L492.5 293.8L492.7 292.6L492.9 292.1L493.1 293.7L493.3 292.9L493.5 293.5L493.7 292.6L493.9 292.8L494.1 292.6L494.3 293.2L494.5 293.7L494.7 292.6L494.9 292.8L495.1 293.2L495.3 293.8L495.5 293.0L495.7 292.2L495.9 293.4L496.1 293.3L496.3 294.7L496.5 293.6L496.7 292.2L496.9 293.7L497.1 292.2L497.3 293.0L497.5 291.3L497.7 293.6L497.9 292.4L498.1 294.4L498.3 292.4L498.5 294.5L498.7 294.3L498.9 293.3L499.1 293.2L499.3 293.0L499.5 293.9L499.7 292.5L499.9 293.0L500.1 292.2L500.3 293.2L500.5 292.7L500.7 294.5L500.9 293.4L501.1 292.8L501.3 293.0L501.5 292.8L501.7 292.0L501.9 292.5L502.1 294.2L502.3 292.6L502.5 294.6L502.7 294.9L502.9 294.7L503.1 292.9L503.3 294.5L503.5 294.0L503.7 294.9L503.9 293.2L504.1 294.1L504.3 294.1L504.5 292.9L504.7 293.9L504.9 294.3L505.1 294.5L505.3 294.7L505.5 292.6L505.7 294.6L505.9 293.5L506.1 294.6L506.3 293.0L506.5 293.6L506.7 293.7L506.9 294.5L507.1 294.4L507.3 294.7L507.5 292.7L507.7 293.5L507.9 294.6L508.1 293.3L508.3 294.9L508.5 293.5L508.7 294.4L508.9 292.8L509.1 295.0L509.3 292.9L509.5 293.7L509.7 293.6L509.9 293.4L510.1 294.1L510.3 294.1L510.5 294.8L510.7 295.3L510.9 294.8L511.1 294.7L511.3 293.3L511.5 293.3L511.7 292.8L511.9 293.1L512.1 294.9L512.3 293.1L512.5 293.6L512.7 293.9L512.9 293.3L513.1 293.8L513.3 293.5L513.5 293.8L513.7 293.3L513.9 292.9L514.1 295.2L514.3 294.7L514.5 294.8L514.7 293.5L514.9 295.2L515.1 295.0L515.3 293.9L515.5 293.6L515.7 294.9L515.9 292.9L516.1 294.4L516.3 295.1L516.5 295.2L516.7 295.3L516.9 294.0L517.1 293.0L517.3 293.9L517.5 293.7L517.7 294.5L517.9 294.9L518.1 295.5L518.3 293.8L518.5 293.9L518.7 293.2L518.9 295.2L519.1 294.3L519.3 293.6L519.5 294.3L519.7 294.3L519.9 295.2L520.1 293.7L520.3 294.4L520.5 294.3L520.7 292.7L520.9 293.5L521.1 293.8L521.3 294.3L521.5 294.6L521.7 295.1L521.9 295.5L522.1 293.5L522.3 295.8L522.5 294.4L522.7 295.3L522.9 294.2L523.1 295.2L523.3 295.0L523.5 292.7L523.7 295.6L523.9 293.5L524.1 294.6L524.3 293.9L524.5 294.8L524.7 293.8L524.9 294.9L525.1 295.2L525.3 294.7L525.5 295.4L525.7 294.2L525.9 294.9L526.1 294.3L526.3 295.5" stroke="#4472c4" stroke-width="2.2" fill="none" stroke-linejoin="round"/>
<path d="M49.5 327.5L49.8 328.8L50.2 327.5L50.5 327.8L50.8 327.9L51.2 327.4L51.5 328.4L51.8 327.3L52.2 328.4L52.5 326.9L52.8 326.9L53.2 327.7L53.5 327.7L53.8 327.5L54.2 328.3L54.5 328.0L54.8 328.1L55.2 327.9L55.5 327.8L55.8 327.7L56.2 327.7L56.5 327.4L56.8 326.2L57.2 326.7L57.5 326.9L57.8 326.4L58.2 326.2L58.5 325.7L58.8 325.2L59.2 326.3L59.5 325.1L59.8 324.2L60.2 324.4L60.5 324.9L60.8 322.1L61.2 322.3L61.5 318.6L61.8 315.4L62.2 313.6L62.5 308.3L62.8 305.6L63.2 301.1L63.5 300.2L63.8 303.0L64.2 305.6L64.5 311.5L64.8 316.3L65.2 319.7L65.5 322.6L65.8 326.6L66.2 327.4L66.5 329.3L66.9 329.8L67.2 331.6L67.5 330.8L67.9 331.6L68.2 332.1L68.5 331.6L68.9 332.4L69.2 332.9L69.5 333.6L69.9 332.8L70.2 332.8L70.5 332.9L70.9 333.4L71.2 333.1L71.5 333.3L71.9 333.9L72.2 334.1L72.5 334.2L72.9 334.2L73.2 333.4L73.5 334.4L73.9 333.7L74.2 334.9L74.5 335.1L74.9 334.1L75.2 335.4L75.5 334.9L75.9 335.1L76.2 335.1L76.5 335.1L76.9 334.2L77.2 335.0L77.5 335.8L77.9 335.5L78.2 334.9L78.5 335.9L78.9 335.8L79.2 335.0L79.5 335.8L79.9 334.8L80.2 334.6L80.5 335.3L80.9 335.9L81.2 335.8L81.5 335.1L81.9 335.5L82.2 336.0L82.5 336.0L82.9 336.4L83.2 335.0L83.5 336.1L83.9 336.0L84.2 335.3L84.5 336.6L84.9 335.8L85.2 336.1L85.5 336.7L85.9 335.9L86.2 336.2L86.5 336.1L86.9 336.6L87.2 336.3L87.5 335.4L87.9 335.3L88.2 336.8L88.5 336.6L88.9 335.5L89.2 336.8L89.5 336.5L89.9 336.4L90.2 336.7L90.5 337.0L90.9 335.9L91.2 335.5L91.5 336.6L91.9 336.0L92.2 336.7L92.5 336.7L92.9 336.7L93.2 337.0L93.5 335.8L93.9 335.9L94.2 336.5L94.5 335.9L94.9 336.5L95.2 336.1L95.5 337.4L95.9 337.1L96.2 337.0L96.5 337.2L96.9 336.1L97.2 336.6L97.5 336.8L97.9 335.8L98.2 336.1L98.5 337.2L98.9 336.1L99.2 337.3L99.5 336.5L99.9 336.5L100.2 335.8L100.5 337.0L100.9 336.1L101.2 335.6L101.6 335.2L101.9 334.9L102.2 335.6L102.6 334.4L102.9 334.3L103.2 333.4L103.6 333.9L103.9 332.8L104.2 332.7L104.6 333.7L104.9 333.8L105.2 334.7L105.6 334.8L105.9 334.4L106.2 335.3L106.6 336.3L106.9 335.7L107.2 336.3L107.6 335.9L107.9 336.7L108.2 337.0L108.6 336.4L108.9 337.2L109.2 336.4L109.6 337.1L109.9 337.5L110.2 337.5L110.6 337.0L110.9 336.6L111.2 338.0L111.6 337.2L111.9 337.1L112.2 336.3L112.6 337.6L112.9 337.7L113.2 337.6L113.6 337.1L113.9 337.1L114.2 337.8L114.6 337.9L114.9 337.3L115.2 337.4L115.6 337.8L115.9 336.9L116.2 336.6L116.6 337.6L116.9 337.3L117.2 336.8L117.6 337.7L117.9 337.5L118.2 336.2L118.6 337.0L118.9 337.4L119.2 337.7L119.6 337.2L119.9 336.3L120.2 335.9L120.6 337.1L120.9 336.6L121.2 335.4L121.6 334.8L121.9 334.8L122.2 333.8L122.6 332.4L122.9 332.2L123.2 332.7L123.6 331.7L123.9 331.3L124.2 332.1L124.6 333.0L124.9 334.6L125.2 334.7L125.6 335.8L125.9 335.6L126.2 336.8L126.6 336.6L126.9 337.5L127.2 337.3L127.6 336.9L127.9 337.9L128.2 336.7L128.6 337.0L128.9 336.8L129.2 336.3L129.6 336.8L129.9 336.4L130.2 336.5L130.6 336.5L130.9 336.9L131.2 337.3L131.6 337.3L131.9 337.4L132.2 336.6L132.6 336.8L132.9 336.5L133.2 337.9L133.6 336.6L133.9 337.5L134.2 337.2L134.6 336.5L134.9 337.8L135.3 337.2L135.6 337.3L135.9 337.7L136.3 336.9L136.6 337.0L136.9 336.6L137.3 337.9L137.6 337.0L137.9 337.9L138.3 337.9L138.6 337.1L138.9 337.4L139.3 336.8L139.6 337.2L139.9 336.9L140.3 338.0L140.6 337.5L140.9 338.0L141.3 336.8L141.6 336.7L141.9 336.3L142.3 337.4L142.6 336.9L142.9 336.8L143.3 337.1L143.6 337.4L143.9 337.7L144.3 337.9L144.6 336.7L144.9 337.2L145.3 338.0L145.6 336.9L145.9 337.3L146.3 337.1L146.6 337.7L146.9 337.6L147.3 337.0L147.6 336.8L147.9 337.5L148.3 338.0L148.6 337.0L148.9 337.2L149.3 336.8L149.6 337.9L149.9 336.4L150.3 337.0L150.6 336.5L150.9 337.1L151.3 337.4L151.6 336.5L151.9 337.5L152.3 336.7L152.6 336.6L152.9 336.9L153.3 337.9L153.6 337.8L153.9 336.8L154.3 336.3L154.6 336.4L154.9 337.0L155.3 336.2L155.6 337.4L155.9 337.2L156.3 336.8L156.6 336.3L156.9 337.8L157.3 336.7L157.6 336.4L157.9 337.7L158.3 337.2L158.6 336.7L158.9 336.3L159.3 336.9L159.6 336.4L159.9 336.3L160.3 335.9L160.6 334.2L160.9 333.4L161.3 331.9L161.6 328.6L161.9 327.1L162.3 325.2L162.6 323.2L162.9 322.2L163.3 322.2L163.6 324.5L163.9 326.1L164.3 328.0L164.6 330.4L164.9 332.9L165.3 332.9L165.6 333.9L165.9 334.7L166.3 335.3L166.6 335.8L166.9 335.8L167.3 335.7L167.6 336.3L167.9 337.0L168.3 337.3L168.6 336.8L169.0 337.7L169.3 336.1L169.6 337.7L170.0 336.2L170.3 337.2L170.6 336.5L171.0 337.5L171.3 337.5L171.6 337.7L172.0 336.7L172.3 336.5L172.6 337.6L173.0 337.5L173.3 337.1L173.6 337.0L174.0 337.2L174.3 338.0L174.6 336.5L175.0 337.3L175.3 337.8L175.6 336.5L176.0 337.6L176.3 337.8L176.6 336.7L177.0 336.9L177.3 337.1L177.6 338.1L178.0 337.9L178.3 338.0L178.6 337.0L179.0 337.9L179.3 337.2L179.6 337.4L180.0 337.5L180.3 337.6L180.6 336.9L181.0 337.0L181.3 336.5L181.6 337.9L182.0 337.1L182.3 338.0L182.6 336.8L183.0 337.4L183.3 338.1L183.6 337.5L184.0 337.9L184.3 338.0L184.6 337.2L185.0 336.6L185.3 337.4L185.6 337.4L186.0 336.8L186.3 336.6L186.6 336.9L187.0 337.6L187.3 336.8L187.6 337.6L188.0 336.8L188.3 337.6L188.6 337.2L189.0 337.8L189.3 336.5L189.6 337.5L190.0 336.8L190.3 336.3L190.6 336.2L191.0 336.2L191.3 336.8L191.6 336.8L192.0 335.5L192.3 335.0L192.6 333.9L193.0 333.7L193.3 331.8L193.6 331.0L194.0 330.8L194.3 329.2L194.6 328.3L195.0 329.3L195.3 328.8L195.6 331.3L196.0 332.6L196.3 333.2L196.6 333.7L197.0 334.5L197.3 336.3L197.6 336.3L198.0 337.1L198.3 335.9L198.6 336.4L199.0 337.1L199.3 336.8L199.6 336.7L200.0 336.1L200.3 337.5L200.6 336.2L201.0 337.2L201.3 337.0L201.6 337.3L202.0 337.3L202.3 336.7L202.6 336.8L203.0 336.0L203.3 337.2L203.7 336.4L204.0 336.0L204.3 335.9L204.7 336.3L205.0 336.0L205.3 336.1L205.7 336.5L206.0 336.3L206.3 336.2L206.7 336.0L207.0 336.7L207.3 336.5L207.7 336.1L208.0 335.6L208.3 336.5L208.7 335.1L209.0 335.3L209.3 334.6L209.7 335.0L210.0 334.0L210.3 334.0L210.7 332.7L211.0 331.6L211.3 329.6L211.7 328.5L212.0 328.8L212.3 328.5L212.7 328.4L213.0 329.0L213.3 329.4L213.7 329.8L214.0 331.0L214.3 331.4L214.7 333.5L215.0 334.3L215.3 334.5L215.7 334.2L216.0 335.3L216.3 335.8L216.7 336.3L217.0 336.2L217.3 336.6L217.7 336.7L218.0 336.5L218.3 335.6L218.7 336.7L219.0 336.3L219.3 336.9L219.7 335.7L220.0 336.4L220.3 336.1L220.7 336.4L221.0 337.3L221.3 336.9L221.7 337.1L222.0 337.0L222.3 335.6L222.7 336.8L223.0 336.9L223.3 336.9L223.7 336.0L224.0 336.2L224.3 336.7L224.7 336.0L225.0 336.4L225.3 336.3L225.7 335.6L226.0 335.6L226.3 335.9L226.7 336.3L227.0 337.1L227.3 336.8L227.7 336.0L228.0 336.9L228.3 336.9L228.7 337.1L229.0 336.7L229.3 336.5L229.7 336.6L230.0 335.5L230.3 336.5L230.7 335.5L231.0 336.5L231.3 336.6L231.7 336.0L232.0 335.7L232.3 336.3L232.7 335.6L233.0 336.0L233.3 336.5L233.7 335.3L234.0 336.9L234.3 336.7L234.7 335.7L235.0 336.4L235.3 336.2L235.7 335.7L236.0 334.9L236.3 334.4L236.7 333.6L237.0 334.2L237.4 333.4L237.7 333.4L238.0 332.4L238.4 331.1L238.7 331.5L239.0 331.6L239.4 332.5L239.7 333.5L240.0 333.9L240.4 334.4L240.7 334.4L241.0 335.6L241.4 335.0L241.7 334.7L242.0 335.1L242.4 335.0L242.7 334.6L243.0 335.1L243.4 334.8L243.7 333.4L244.0 333.3L244.4 332.0L244.7 331.1L245.0 329.0L245.4 326.6L245.7 324.4L246.0 320.8L246.4 317.7L246.7 316.0L247.0 313.0L247.4 313.5L247.7 314.0L248.0 316.7L248.4 320.2L248.7 322.1L249.0 324.9L249.4 328.0L249.7 331.2L250.0 331.7L250.4 333.0L250.7 334.2L251.0 333.7L251.4 335.2L251.7 335.6L252.0 336.2L252.4 335.9L252.7 336.0L253.0 335.1L253.4 335.8L253.7 335.4L254.0 335.6L254.4 335.3L254.7 335.9L255.0 335.5L255.4 335.8L255.7 335.3L256.0 337.0L256.4 336.0L256.7 335.9L257.0 336.5L257.4 336.6L257.7 336.4L258.0 335.6L258.4 335.9L258.7 335.5L259.0 335.8L259.4 334.8L259.7 335.4L260.0 334.1L260.4 333.4L260.7 334.5L261.0 333.2L261.4 335.2L261.7 335.5L262.0 335.1L262.4 335.1L262.7 335.0L263.0 335.8L263.4 336.5L263.7 335.6L264.0 336.6L264.4 335.9L264.7 336.4L265.0 336.8L265.4 336.3L265.7 336.6L266.0 336.0L266.4 336.4L266.7 336.8L267.0 336.9L267.4 336.9L267.7 335.6L268.0 335.1L268.4 334.7L268.7 334.5L269.0 335.1L269.4 333.6L269.7 334.2L270.0 332.6L270.4 333.8L270.7 333.4L271.1 333.3L271.4 334.6L271.7 335.4L272.1 334.5L272.4 335.5L272.7 335.2L273.1 336.9L273.4 336.0L273.7 336.2L274.1 336.4L274.4 336.9L274.7 337.1L275.1 336.1L275.4 336.2L275.7 336.9L276.1 336.7L276.4 336.6L276.7 336.8L277.1 337.0L277.4 335.4L277.7 336.3L278.1 335.7L278.4 336.8L278.7 335.1L279.1 335.7L279.4 335.7L279.7 334.7L280.1 334.9L280.4 334.5L280.7 333.2L281.1 333.4L281.4 331.3L281.7 329.7L282.1 328.3L282.4 326.2L282.7 322.8L283.1 322.0L283.4 320.5L283.7 322.4L284.1 324.0L284.4 325.5L284.7 327.1L285.1 330.6L285.4 332.1L285.7 333.8L286.1 334.3L286.4 335.9L286.7 335.3L287.1 336.4L287.4 335.4L287.7 337.0L288.1 335.9L288.4 335.5L288.7 335.8L289.1 335.0L289.4 335.5L289.7 335.3L290.1 334.3L290.4 334.0L290.7 335.6L291.1 335.7L291.4 336.0L291.7 337.0L292.1 335.8L292.4 336.8L292.7 336.1L293.1 337.7L293.4 337.7L293.7 337.0L294.1 337.4L294.4 337.7L294.7 337.5L295.1 337.6L295.4 336.9L295.7 337.7L296.1 337.7L296.4 337.3L296.7 337.4L297.1 337.1L297.4 337.5L297.7 338.0L298.1 336.4L298.4 337.7L298.7 337.6L299.1 337.0L299.4 336.5L299.7 337.1L300.1 337.2L300.4 335.9L300.7 336.4L301.1 336.5L301.4 335.5L301.7 336.5L302.1 336.2L302.4 335.6L302.7 337.2L303.1 336.0L303.4 337.6L303.7 337.2L304.1 336.3L304.4 336.6L304.7 336.6L305.1 337.5L305.4 337.7L305.8 337.0L306.1 337.5L306.4 337.3L306.8 337.8L307.1 336.7L307.4 336.4L307.8 336.7L308.1 337.3L308.4 336.0L308.8 336.6L309.1 334.8L309.4 335.6L309.8 334.3L310.1 334.4L310.4 333.3L310.8 333.3L311.1 333.8L311.4 333.3L311.8 333.7L312.1 334.9L312.4 335.0L312.8 335.6L313.1 335.9L313.4 336.0L313.8 337.5L314.1 337.3L314.4 336.8L314.8 337.9L315.1 336.3L315.4 337.9L315.8 337.7L316.1 337.1L316.4 338.0L316.8 336.9L317.1 336.5L317.4 336.4L317.8 337.5L318.1 336.7L318.4 336.5L318.8 337.3L319.1 337.2L319.4 336.1L319.8 335.6L320.1 335.4L320.4 334.5L320.8 334.6L321.1 333.2L321.4 331.9L321.8 330.8L322.1 332.1L322.4 331.1L322.8 332.6L323.1 333.2L323.4 333.2L323.8 333.6L324.1 335.1L324.4 334.5L324.8 334.8L325.1 335.0L325.4 336.1L325.8 336.4L326.1 336.0L326.4 336.1L326.8 334.0L327.1 334.4L327.4 333.3L327.8 332.0L328.1 330.0L328.4 327.7L328.8 326.5L329.1 325.0L329.4 325.7L329.8 325.6L330.1 327.0L330.4 327.9L330.8 328.7L331.1 331.5L331.4 332.3L331.8 334.0L332.1 334.5L332.4 335.5L332.8 335.3L333.1 336.9L333.4 336.1L333.8 337.3L334.1 337.4L334.4 336.9L334.8 336.2L335.1 336.7L335.4 336.9L335.8 336.5L336.1 336.1L336.4 337.6L336.8 336.8L337.1 336.5L337.4 335.6L337.8 336.1L338.1 336.3L338.4 334.8L338.8 335.8L339.1 334.1L339.5 333.6L339.8 334.4L340.1 333.2L340.5 334.4L340.8 333.5L341.1 333.5L341.5 334.9L341.8 334.2L342.1 334.8L342.5 336.1L342.8 336.7L343.1 336.5L343.5 337.3L343.8 336.3L344.1 337.5L344.5 336.8L344.8 337.5L345.1 336.1L345.5 336.7L345.8 335.7L346.1 335.7L346.5 335.9L346.8 336.2L347.1 336.3L347.5 335.9L347.8 336.2L348.1 337.7L348.5 336.2L348.8 337.1L349.1 338.0L349.5 337.9L349.8 337.8L350.1 337.1L350.5 337.3L350.8 338.7L351.1 337.9L351.5 337.5L351.8 338.6L352.1 338.4L352.5 338.3L352.8 337.4L353.1 337.7L353.5 338.4L353.8 337.4L354.1 338.5L354.5 337.3L354.8 337.3L355.1 337.4L355.5 335.6L355.8 335.9L356.1 335.1L356.5 333.5L356.8 332.7L357.1 332.0L357.5 332.7L357.8 333.7L358.1 333.5L358.5 335.2L358.8 335.5L359.1 337.5L359.5 336.9L359.8 337.4L360.1 339.2L360.5 339.1L360.8 340.4L361.1 339.4L361.5 339.9L361.8 339.1L362.1 338.8L362.5 338.5L362.8 338.9L363.1 337.7L363.5 339.1L363.8 338.8L364.1 338.9L364.5 337.8L364.8 338.9L365.1 338.6L365.5 338.9L365.8 338.6L366.1 339.3L366.5 339.1L366.8 338.7L367.1 339.5L367.5 338.6L367.8 338.3L368.1 339.3L368.5 338.1L368.8 339.1L369.1 338.7L369.5 339.5L369.8 337.8L370.1 338.3L370.5 339.4L370.8 338.8L371.1 338.2L371.5 339.1L371.8 338.7L372.1 338.8L372.5 338.1L372.8 337.9L373.2 339.5L373.5 339.0L373.8 339.6L374.2 338.7L374.5 338.3L374.8 337.9L375.2 338.9L375.5 339.3L375.8 339.5L376.2 338.6L376.5 338.4L376.8 338.3L377.2 339.6L377.5 339.1L377.8 338.9L378.2 339.6L378.5 339.3L378.8 338.9L379.2 339.3L379.5 339.2L379.8 339.3L380.2 338.6L380.5 339.2L380.8 338.3L381.2 338.1L381.5 338.9L381.8 339.4L382.2 338.4L382.5 339.6L382.8 338.9L383.2 339.2L383.5 339.6L383.8 339.5L384.2 339.2L384.5 338.6L384.8 338.4L385.2 339.1L385.5 339.1L385.8 339.2L386.2 338.8L386.5 338.4L386.8 339.8L387.2 339.3L387.5 339.3L387.8 338.2L388.2 339.1L388.5 339.1L388.8 338.3L389.2 338.5L389.5 338.4L389.8 339.2L390.2 339.7L390.5 339.3L390.8 338.7L391.2 339.7L391.5 339.1L391.8 339.6L392.2 339.2L392.5 338.4L392.8 338.9L393.2 338.6L393.5 338.6L393.8 338.1L394.2 339.4L394.5 338.9L394.8 338.3L395.2 338.8L395.5 338.0L395.8 336.9L396.2 337.7L396.5 337.1L396.8 336.2L397.2 336.0L397.5 335.8L397.8 335.6L398.2 335.6L398.5 337.3L398.8 337.1L399.2 338.4L399.5 338.0L399.8 338.4L400.2 339.6L400.5 338.3L400.8 338.6L401.2 339.5L401.5 339.0L401.8 339.8L402.2 338.5L402.5 338.3L402.8 339.8L403.2 338.6L403.5 338.9L403.8 338.7L404.2 339.2L404.5 340.0L404.8 339.3L405.2 339.7L405.5 338.7L405.8 339.4L406.2 338.8L406.5 338.8L406.8 339.0L407.2 339.1L407.5 339.7L407.9 338.6L408.2 338.9L408.5 340.2L408.9 339.1L409.2 338.5L409.5 340.0L409.9 338.5L410.2 339.2L410.5 339.8L410.9 340.2L411.2 340.1L411.5 340.2L411.9 339.6L412.2 340.2L412.5 338.9L412.9 339.1L413.2 339.7L413.5 339.6L413.9 340.0L414.2 338.7L414.5 339.2L414.9 339.7L415.2 338.7L415.5 339.4L415.9 340.1L416.2 338.6L416.5 340.0L416.9 339.8L417.2 339.3L417.5 338.9L417.9 340.0L418.2 339.2L418.5 339.7L418.9 338.8L419.2 339.9L419.5 340.2L419.9 340.2L420.2 340.3L420.5 338.7L420.9 340.0L421.2 339.0L421.5 338.8L421.9 340.0L422.2 340.2L422.5 338.7L422.9 339.0L423.2 339.5L423.5 340.2L423.9 339.4L424.2 338.7L424.5 339.9L424.9 340.3L425.2 338.9L425.5 340.1L425.9 340.3L426.2 339.4L426.5 340.1L426.9 339.8L427.2 340.4L427.5 339.8L427.9 339.1L428.2 339.9L428.5 339.2L428.9 339.2L429.2 338.6L429.5 338.7L429.9 338.9L430.2 339.8L430.5 339.5L430.9 339.2L431.2 339.6L431.5 339.0L431.9 338.9L432.2 339.2L432.5 339.2L432.9 338.9L433.2 338.3L433.5 338.8L433.9 338.5L434.2 338.2L434.5 337.1L434.9 338.0L435.2 337.2L435.5 339.1L435.9 338.6L436.2 338.0L436.5 338.3L436.9 339.4L437.2 339.6L437.5 339.1L437.9 339.2L438.2 339.9L438.5 339.8L438.9 339.6L439.2 338.8L439.5 338.6L439.9 338.9L440.2 337.7L440.5 338.5L440.9 338.4L441.2 338.6L441.6 337.8L441.9 338.2L442.2 338.3L442.6 338.9L442.9 339.4L443.2 339.2L443.6 340.1L443.9 339.7L444.2 340.1L444.6 340.4L444.9 340.2L445.2 339.1L445.6 339.4L445.9 338.9L446.2 339.5L446.6 339.6L446.9 339.4L447.2 339.5L447.6 339.2L447.9 340.3L448.2 339.5L448.6 338.8L448.9 339.6L449.2 339.5L449.6 339.1L449.9 340.1L450.2 339.5L450.6 340.2L450.9 339.8L451.2 340.4L451.6 339.2L451.9 338.5L452.2 338.7L452.6 339.5L452.9 338.4L453.2 338.9L453.6 337.9L453.9 339.2L454.2 338.3L454.6 338.3L454.9 339.5L455.2 339.4L455.6 339.4L455.9 340.1L456.2 340.0L456.6 338.7L456.9 340.4L457.2 339.2L457.6 340.2L457.9 339.4L458.2 339.4L458.6 339.7L458.9 338.9L459.2 340.5L459.6 339.4L459.9 340.1L460.2 339.2L460.6 339.1L460.9 339.0L461.2 339.8L461.6 339.7L461.9 340.3L462.2 339.8L462.6 339.9L462.9 340.0L463.2 339.2L463.6 339.7L463.9 340.5L464.2 340.8L464.6 339.9L464.9 339.6L465.2 340.5L465.6 340.0L465.9 339.1L466.2 339.3L466.6 340.2L466.9 339.2L467.2 340.0L467.6 340.8L467.9 340.0L468.2 339.8L468.6 340.5L468.9 340.0L469.2 340.5L469.6 339.0L469.9 340.5L470.2 339.3L470.6 339.4L470.9 340.1L471.2 340.3L471.6 339.3L471.9 340.5L472.2 339.9L472.6 340.4L472.9 339.7L473.2 339.7L473.6 340.0L473.9 340.2L474.2 340.4L474.6 339.7L474.9 340.2L475.3 339.5L475.6 340.3L475.9 339.8L476.3 340.7L476.6 340.4L476.9 339.2L477.3 340.2L477.6 339.7L477.9 339.6L478.3 339.4L478.6 340.3L478.9 340.6L479.3 339.9L479.6 340.0L479.9 339.7L480.3 340.5L480.6 340.8L480.9 339.9L481.3 339.9L481.6 339.4L481.9 339.6L482.3 339.8L482.6 339.8L482.9 339.4L483.3 339.7L483.6 339.2L483.9 339.6L484.3 340.2L484.6 340.7L484.9 339.4L485.3 340.3L485.6 339.4L485.9 340.7L486.3 339.4L486.6 339.0L486.9 340.5L487.3 339.4L487.6 339.1L487.9 339.4L488.3 340.0L488.6 339.1L488.9 339.1L489.3 339.4L489.6 338.2L489.9 339.8L490.3 339.4L490.6 339.3L490.9 338.9L491.3 340.1L491.6 338.6L491.9 338.6L492.3 339.7L492.6 340.0L492.9 339.1L493.3 340.4L493.6 339.7L493.9 339.6L494.3 340.3L494.6 339.8L494.9 339.4L495.3 339.9L495.6 339.2L495.9 339.7L496.3 340.2L496.6 339.3L496.9 339.9L497.3 340.0L497.6 339.2L497.9 339.5L498.3 339.2L498.6 340.1L498.9 340.3L499.3 339.2L499.6 340.2L499.9 340.7L500.3 339.2L500.6 340.2L500.9 339.7L501.3 339.4L501.6 340.7L501.9 339.7L502.3 340.7L502.6 340.8L502.9 339.6L503.3 340.8L503.6 340.8L503.9 339.2L504.3 340.8L504.6 340.3L504.9 339.2L505.3 340.1L505.6 340.7L505.9 340.7L506.3 340.8L506.6 340.1L506.9 339.4L507.3 339.8L507.6 339.7L507.9 340.3L508.3 339.7L508.6 340.2L508.9 339.8L509.3 340.0L509.6 340.4L510.0 340.7L510.3 339.3L510.6 340.0L511.0 339.8L511.3 340.4L511.6 340.5L512.0 340.5L512.3 339.5L512.6 339.5L513.0 340.8L513.3 339.8L513.6 340.5L514.0 339.3L514.3 340.3L514.6 339.7L515.0 340.4L515.3 339.4L515.6 340.8L516.0 340.5L516.3 340.4L516.6 340.1L517.0 340.7L517.3 340.0L517.6 340.4L518.0 340.0L518.3 339.3L518.6 340.1L519.0 340.7L519.3 340.4L519.6 339.4L520.0 339.3L520.3 339.6L520.6 340.4L521.0 339.8L521.3 339.7L521.6 340.8L522.0 339.3L522.3 340.8L522.6 339.9L523.0 340.7L523.3 339.8L523.6 340.2L524.0 339.5L524.3 339.8L524.6 340.4L525.0 340.5L525.3 339.6L525.6 340.4L526.0 341.1L526.3 340.4" stroke="#000" stroke-width="2.9" fill="none" stroke-linejoin="round"/>
<!-- frame -->
<rect x="49.5" y="16" width="476.8" height="327" fill="none" stroke="#000" stroke-width="2"/>
<path d="M49.50 343V349M60.10 343V347.3M70.69 343V347.3M81.29 343V347.3M91.88 343V347.3M102.48 343V349M113.07 343V347.3M123.67 343V347.3M134.26 343V347.3M144.86 343V347.3M155.46 343V349M166.05 343V347.3M176.65 343V347.3M187.24 343V347.3M197.84 343V347.3M208.43 343V349M219.03 343V347.3M229.62 343V347.3M240.22 343V347.3M250.82 343V347.3M261.41 343V349M272.01 343V347.3M282.60 343V347.3M293.20 343V347.3M303.79 343V347.3M314.39 343V349M324.98 343V347.3M335.58 343V347.3M346.18 343V347.3M356.77 343V347.3M367.37 343V349M377.96 343V347.3M388.56 343V347.3M399.15 343V347.3M409.75 343V347.3M420.34 343V349M430.94 343V347.3M441.54 343V347.3M452.13 343V347.3M462.73 343V347.3M473.32 343V349M483.92 343V347.3M494.51 343V347.3M505.11 343V347.3M515.70 343V347.3M526.30 343V349" stroke="#333" stroke-width="0.9" fill="none"/>
<g font-size="17.3px" fill="#000"><text x="49.8" y="369" text-anchor="middle">5</text><text x="102.8" y="369" text-anchor="middle">10</text><text x="155.8" y="369" text-anchor="middle">15</text><text x="208.7" y="369" text-anchor="middle">20</text><text x="261.7" y="369" text-anchor="middle">25</text><text x="314.7" y="369" text-anchor="middle">30</text><text x="367.7" y="369" text-anchor="middle">35</text><text x="420.6" y="369" text-anchor="middle">40</text><text x="473.6" y="369" text-anchor="middle">45</text><text x="526.6" y="369" text-anchor="middle">50</text></g>
<text x="273" y="388.8" font-size="20.8px">2θ°</text>
<text transform="translate(25.4,241) rotate(-90)" font-size="21px">Intensity (a.u.)</text>
<!-- legend -->
<path d="M394.8 234.6H429.3" stroke="#ff0000" stroke-width="2.2"/>
<path d="M394.8 278.7H429.3" stroke="#4472c4" stroke-width="2.2"/>
<path d="M394.4 323.8H429.3" stroke="#000" stroke-width="2.3"/>
<g font-size="18.4px" fill="#000">
<text x="431.2" y="240">P84/ZCC</text>
<text x="431.2" y="283.7">Neat</text>
<text x="431.2" y="328.5">ZCC</text>
</g>
</svg>
</body></html>
